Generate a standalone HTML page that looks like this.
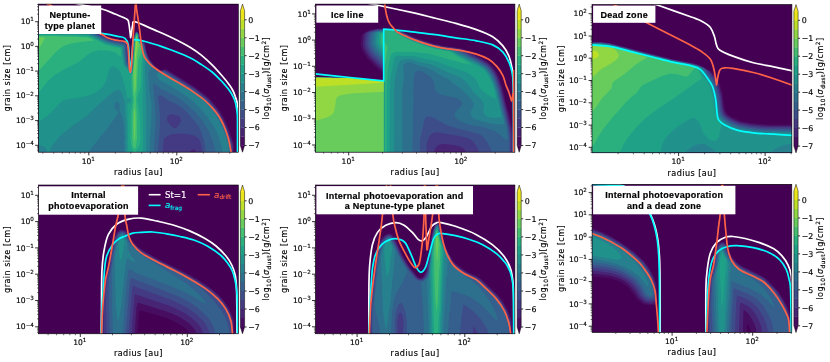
<!DOCTYPE html>
<html><head><meta charset="utf-8"><title>Dust size distributions</title>
<style>
html,body{margin:0;padding:0;background:#fff;}
body{width:830px;height:362px;overflow:hidden;}
svg{display:block;}
text{font-family:"DejaVu Sans","Liberation Sans",sans-serif;fill:#000;stroke:#000;stroke-width:0.15px;}
.tk{font-size:7.6px;}
.ck{font-size:7.9px;}
.lb{font-size:8.1px;letter-spacing:0.45px;}
.sp{font-size:5.8px;}
.st{font-size:5.6px;}
.tt{font-family:"Liberation Sans",sans-serif;font-weight:bold;font-size:9.0px;letter-spacing:0.28px;stroke-width:0.2px;}
.lg{font-size:8.7px;}
</style></head><body>

<svg width="830" height="362" viewBox="0 0 830 362">
<defs>
<clipPath id="cp0"><rect x="38.5" y="4.1" width="199.8" height="148.1"/></clipPath>
<clipPath id="cp1"><rect x="315.4" y="4.1" width="199.5" height="148.1"/></clipPath>
<clipPath id="cp2"><rect x="592" y="4.6" width="199.9" height="148.2"/></clipPath>
<clipPath id="cp3"><rect x="38.5" y="185" width="199.8" height="148.8"/></clipPath>
<clipPath id="cp4"><rect x="315.4" y="185" width="199.5" height="148.8"/></clipPath>
<clipPath id="cp5"><rect x="592.1" y="184.3" width="199.7" height="148.2"/></clipPath>
</defs>
<rect width="830" height="362" fill="#fff"/>
<g clip-path="url(#cp0)">
<rect x="37.5" y="3.1" width="201.8" height="150.1" fill="#440154"/>
<path d="M39.2 29.5L48.2 29.5L51.2 30L73.2 30L95.8 32.6L102.2 33.9L111.8 37.8L125.8 40.6L127.2 42.2L128.2 45.5L129.6 64.3L130.8 70.6L131.8 66.3L133.9 36.4L135.3 32.4L136.2 31.4L137.2 31.5L139 33.9L139.2 37.4L140.3 40.9L141.2 41.8L144.2 42.2L144.9 42.9L145.9 45.9L146.6 50.9L149.3 58.4L157.2 68.6L160.8 70.1L164.8 69.2L166.8 69.3L188.8 82.7L196.2 87.7L205.5 94.8L209.5 98.3L216.8 106.6L220.7 111.8L225.2 120.3L229 128.8L233.6 142.8L234.2 146.3L234.2 151.8L38.8 151.8L38.8 29.5Z" fill="#470d60" fill-rule="evenodd"/>
<path d="M39.2 29.7L73.2 30.2L95.8 32.8L102 34.4L107.8 37.4L111.2 38.6L117.8 40.2L125.8 41.4L126.8 42.3L127.8 45.5L129 61.9L130.2 70.8L130.8 71.4L131.9 66.3L134.1 36.4L135.5 32.4L136.2 31.6L137.2 31.7L138.8 33.9L139 37.4L140.1 40.9L141.2 41.9L143.8 42.4L144.4 42.9L145.4 45.9L146.1 50.9L149 58.9L156.8 68.8L158.2 69.8L160.8 70.5L164.8 69.8L166.2 70L194.2 87.5L208.7 98.8L218.1 109.8L223.2 118.3L228.1 129.3L232.6 142.8L233.3 146.8L233.3 151.8L38.8 151.8L38.8 29.7Z" fill="#482475" fill-rule="evenodd"/>
<path d="M39.2 30L73.2 30.5L90.8 32.4L98.8 33.9L107.2 38.2L111.2 39.6L117.2 41.1L125.8 42.4L126.7 43.9L127.3 46.9L128.4 61.8L129.7 66.8L130 71.3L130.8 72.4L132.1 66.3L134.3 36.4L135.7 32.4L136.2 31.9L137.2 32L138.7 34.4L138.9 37.4L139.9 40.9L140.8 41.9L143.2 42.5L144.1 43.4L145.8 51.3L148.5 58.9L156.6 69.3L160.2 71L164.2 70.5L165.8 70.8L195.2 89.3L207.8 99.3L217.2 110.3L222.4 118.9L227.3 129.8L231.8 143.3L232.4 146.8L232.4 151.8L195.8 151.8L195.1 149.8L193.8 149.2L191.8 149.9L189.9 151.8L38.8 151.8L38.8 30Z" fill="#443983" fill-rule="evenodd"/>
<path d="M39.2 30.3L73.2 30.8L91.2 32.7L97.9 34.4L106.8 39L110.8 40.4L125.2 43.3L125.9 44.3L126.4 47.4L126.5 52.9L127.6 61.9L129.3 66.3L129.8 71.8L130.8 72.9L131.7 70.3L132.3 66.3L134.4 36.4L135.8 32.6L136.2 32.1L137.2 32.2L138.6 34.4L138.8 37.8L139.7 40.9L140.8 42.1L143.2 42.9L143.6 43.4L144.5 46.4L145.3 51.4L148 58.9L156.2 69.6L160.2 71.4L164.8 71.3L194.4 89.8L207.2 100.1L216.5 110.8L221.6 119.3L226.5 130.3L230.8 143.3L231.5 147.3L231.5 151.8L202.6 151.8L200.6 142.3L199.1 139.3L197.3 137.4L194.2 135.8L190.8 134.7L185.2 133.7L180.8 133.4L173.8 134L170.2 134.8L167.8 135.9L164.2 138.3L163.6 139.8L162.8 151.8L38.8 151.8L38.8 30.3ZM171.2 114.3L169.2 115L167.7 116.3L166.8 118.3L167 120.3L168.2 122.5L172.2 127.1L174.2 128L176.2 127.8L178 126.3L180.7 121.8L181.1 120.3L181 118.8L179.6 116.8L177.2 115.4L174.2 114.5Z" fill="#3d4d8a" fill-rule="evenodd"/>
<path d="M39.2 30.7L73.2 31.2L90.2 32.9L95.2 34.1L106.2 39.8L110.2 41.2L124.2 44.1L125 44.9L125.5 47.4L125.6 52.8L126.8 62.4L129.1 66.8L129.6 71.8L130.8 73.3L131.4 72.3L132.5 66.3L134.6 36.4L135.8 33L136.2 32.4L137.2 32.5L138.4 34.4L138.6 37.9L139.5 40.9L140.8 42.3L142.8 43L143.2 43.8L144.8 51.3L147.4 58.9L149.2 61.7L155.7 69.8L157.2 70.9L159.8 71.8L164.2 72.1L194.2 90.8L206.6 100.8L215.7 111.3L220.8 119.8L225.7 130.8L229.9 143.3L230.5 147.3L230.6 151.8L205.7 151.8L204.4 141.8L201.2 131.8L198.8 126.6L195.2 121.7L186.8 112.1L181.2 107.1L175.2 103.5L167.8 100.3L162.8 96.3L160.2 95.3L158.5 95.8L157.9 97.3L159.5 107.8L160.1 120.3L159.6 132.8L157.8 151.8L38.8 151.8L38.8 30.7Z" fill="#355f8d" fill-rule="evenodd"/>
<path d="M39.2 31.5L76.8 32.1L89.8 33.2L93.8 34.4L106.8 41L116.2 43.6L123.4 44.9L124 45.4L124.5 47.4L124.7 52.9L126 62.8L126.8 64.8L128.8 67.1L129.5 72.3L130.8 73.6L131.5 72.8L132.7 66.3L134.7 36.9L135.8 33.4L136.2 32.7L137.2 32.8L138.2 34.4L138.4 37.9L139.3 40.9L140.2 42.1L142.8 43.9L144.5 51.9L146.9 58.9L148.7 61.9L155.2 70.1L158.8 72.1L163.8 72.8L193.3 91.3L205.8 101.4L214.9 111.8L220 120.3L224.8 130.9L229 143.8L229.6 147.3L229.7 151.8L215.6 151.8L213.1 141.8L209.1 131.8L203.2 121.8L196.7 113.8L188.8 105.9L178.8 98.1L171.2 93.7L160.8 88.7L156.2 85.1L154.2 84.1L153.2 84.6L152.9 85.8L153.9 91.3L154.1 97.3L155 103.3L155.8 118.8L153.8 151.8L38.8 151.8L38.8 31.5Z" fill="#2d708e" fill-rule="evenodd"/>
<path d="M39.2 32.4L76.8 32.9L88.8 33.6L93.2 35.1L106.2 41.8L115.8 44.4L122.8 45.7L123.7 47.9L123.8 52.9L125.2 63.4L126.2 65.7L128.7 68.3L129.3 72.3L129.8 73.3L130.8 73.8L131.8 72.8L132.8 66.3L134.9 36.9L135.8 33.8L136.2 33L137.2 33.1L138 34.4L138.2 37.9L139.1 40.9L140.2 42.4L142.3 43.9L144 51.9L146.1 58.4L150.8 65.9L151.5 67.8L148.8 71.1L148 73.8L148.9 80.3L149 87.3L151.2 102.8L151.7 111.3L149.4 151.8L124.1 151.8L124.1 149.3L124.8 146.3L123.8 141.8L124.8 137.3L123.7 132.8L124.3 128.8L123.6 123.3L121.8 115.4L120.8 113.2L119.5 111.8L119.9 107.3L119.4 103.8L118.7 102.3L117.2 101.7L116.2 102L114.8 103.8L114.1 106.8L115.2 109.7L117.9 111.8L117.9 113.3L109.1 126.3L89.8 150.1L89 151.8L38.8 151.8L38.7 32.4ZM157.2 72.9L162.8 73.4L168.2 77.2L186.2 87.8L193 92.3L202.2 99.5L208.8 105.9L215.9 114.9L222.8 128.5L228.1 143.8L228.6 147.3L228.7 151.8L222.6 151.8L219.2 137.8L216.8 131.5L210.8 121.5L201.2 109.3L193.3 101.5L182.8 93.4L173.2 87.4L159.7 80.3L157.7 77.8L156.8 73.3Z" fill="#27808e" fill-rule="evenodd"/>
<path d="M39.2 33.3L55.2 33.3L59.2 33.7L76.2 33.8L88.2 34.3L92.8 35.9L105.8 42.6L115.2 45.3L121.8 46.4L122.5 46.8L122.8 47.8L122.9 52.8L124.5 64.3L126 66.8L128.2 68.8L129.2 72.8L129.8 73.7L130.8 74.1L132 72.8L133 66.8L135.1 36.9L135.9 33.9L136.8 33.1L137.2 33.4L137.9 34.9L138.6 40.4L139.8 42.2L141.8 43.9L142.3 45.3L145.7 60.4L144.9 73.8L145.6 82.3L146.4 115.3L146.1 151.8L125.9 151.8L126.6 146.8L125.9 142.3L126.5 136.8L125.8 132.3L126.3 127.8L124.4 100.8L121.8 93L120.2 90.9L118.2 89.8L116.2 90.1L113.8 91.5L97.5 105.3L86.4 116.3L72.6 125.8L62.5 133.8L58.4 137.8L51.7 146.3L50.4 148.8L50.1 151.8L46.8 151.8L46.3 149.3L45 147.4L42.4 145.8L38.8 145.2L38.8 33.3Z" fill="#21918c" fill-rule="evenodd"/>
<path d="M136.2 33.8L136.8 33.5L137.5 34.4L138.6 40.9L141.5 44.4L144 56.3L143.3 61.9L143 74.3L143.3 83.3L142.5 101.3L143.4 139.3L142.9 147.9L142.1 151.8L130.2 151.5L128.5 151.8L127.9 141.8L128.1 127.8L127.7 122.8L127.4 104.3L128.2 102.9L129.8 102.9L130.8 102.2L131.1 99.8L130.2 97.9L127.8 97.9L126.8 96.7L124.9 85.8L120.8 72.9L118.3 69.1L114.8 66.7L112.2 66.6L110 68.3L108.8 71.3L106.9 78.8L105.5 82.3L102.8 86.6L98.8 90.6L92.8 94L86.8 96L75.8 98.2L66.8 99L63.8 100L59.8 103.1L50.8 112.8L40.8 120.5L38.8 121.3L38.8 34.2L55.2 34.2L59.2 34.7L76.2 34.7L87.8 35.2L92.2 36.7L105.2 43.4L114.8 46.1L121.2 47.3L121.9 48.3L122 52.9L123.6 64.8L125.6 67.8L128.2 70L128.6 72.3L129.3 73.8L130.8 74.5L132.1 73.3L133.2 66.8L134.8 42L135.3 36.9Z" fill="#1fa188" fill-rule="evenodd"/>
<path d="M136.8 33.8L137.4 34.9L137.6 37.9L138.4 40.9L140.8 43.9L141.5 45.9L142.7 53.9L141.5 61.4L140.8 86.2L139.8 90.3L138.2 94.1L137.4 100.3L139.5 115.3L140.6 138.3L139.8 144.5L136.8 149.7L136.1 151.8L133.2 151.8L131 145.8L130.3 139.8L130.6 117.8L131.1 110.8L132.7 100.3L131.8 92.3L131.1 75.8L132.4 73.3L132.9 70.3L134.9 42.4L135.5 36.8L136.2 34.4ZM39.2 35.1L76.8 35.6L88.2 36.3L92.2 37.7L105.2 44.5L114.2 47L120.2 48L120.9 48.9L121 55.9L120.8 56.5L120.2 56.4L117.2 53.8L113.8 52L107.2 50.6L98.8 50.3L92.6 51.9L88.2 54.3L79.2 61.7L63.8 69.4L53.8 75.8L47.8 81.1L40.2 90.7L38.8 91.7L38.8 35.1Z" fill="#2ab07f" fill-rule="evenodd"/>
<path d="M136.8 34.3L137.2 35.2L138.1 40.9L140.5 44.4L141.4 50.4L141 52.9L138.8 58.7L138.2 61.4L137.1 86.3L135.8 100.3L136.8 115.3L137 138.3L135.9 146.3L135.2 148.2L134.2 148.8L132.8 145.3L132.3 139.3L132.5 113.8L133.8 100.3L132.9 90.8L132.5 75.3L133.6 66.8L135.1 42.4L135.7 36.9ZM39.2 36L55.2 36.1L59.2 36.6L76.2 36.7L79.8 37.2L87.2 37.3L90.6 38.4L93.8 40.4L93.2 40.8L84.2 41.4L73.8 43.1L67.8 44.5L63.8 46.1L60.2 48.3L56.2 51.7L40.2 69.1L38.8 70L38.8 36Z" fill="#44bf70" fill-rule="evenodd"/>
<path d="M136.8 35.5L137.6 40.4L139.7 44.3L139.8 45.8L138.2 49.5L137.1 55.8L135.8 86.8L134.8 93.1L134.2 92L133.9 87.8L133.4 72.3L134.5 60.4L134.4 54.9L135.4 46.9L135.4 42.4L136.1 36.9ZM39.2 37L43.8 37.4L45.1 37.9L40.2 46.5L38.8 48L38.8 37ZM134.8 109L135.3 113.3L135.5 123.3L135.2 135.4L134.8 140L134.2 140L134 137.3L133.6 122.8L134 111.8L134.2 109.6Z" fill="#67cc5c" fill-rule="evenodd"/>
<path d="M136.8 39.7L137.3 42.9L135.4 60.4L134.8 72.5L134.7 62.9L135.2 60.3L134.9 54.9L135.8 46.9L135.7 42.4Z" fill="#90d743" fill-rule="evenodd"/>
<path d="M70 2C71.8 2.4 75.8 3.5 81 4.6C86.2 5.7 95.3 7.2 101 8.8C106.7 10.4 110.7 12.2 115 14C119.3 15.8 124.7 17.7 127 19.3C129.3 20.9 128.3 21.3 128.8 23.4C129.3 25.5 129.7 29.6 130 32C130.3 34.4 130.6 37.6 130.6 37.6C130.6 37.6 131.3 34 131.6 32C131.9 30 132.1 27.2 132.6 25.5C133.1 23.8 132 21.4 134.4 21.6C136.8 21.8 143.1 25 147 26.6C150.9 28.2 153.4 29.4 158.1 31.5C162.8 33.6 169.7 36.6 175 39.2C180.3 41.8 185.7 44.6 190 47.2C194.3 49.8 197.3 51.9 201 54.9C204.7 57.9 208.4 61.2 212.1 64.9C215.8 68.6 220.1 73.6 223.1 77C226.1 80.4 228.1 83.2 229.8 85.5C231.5 87.8 232.2 89.2 233.1 91C234 92.8 234.7 94.8 235.3 96.6C236 98.4 236.5 100 237 102C237.5 104 237.9 105.7 238.1 108.7C238.3 111.7 238.3 112.6 238.3 120C238.3 127.4 238.3 147.5 238.3 153" fill="none" stroke="#ffffff" stroke-width="1.7" stroke-linejoin="round" stroke-linecap="butt"/>
<path d="M42 26.4C46.7 26.9 60.1 28.4 70 29.5C79.9 30.6 93.4 32.2 101.4 33.3C109.4 34.4 113.9 35.4 117.8 36.3C121.7 37.1 123.2 36.9 125 38.4C126.8 39.9 127.6 41.4 128.3 45C129 48.6 129.1 55.4 129.4 60C129.8 64.6 130.4 72.6 130.4 72.6C130.4 72.6 131.2 64.6 131.6 60C132 55.4 132.3 48.4 132.8 45C133.3 41.6 132 40.1 134.4 39.6C136.8 39.1 143.1 41 147 42C150.9 43 154.4 44.1 158.1 45.3C161.8 46.5 163.9 47.1 169.2 49.2C174.5 51.3 184.7 55.2 190 57.7C195.3 60.2 197.3 61.9 201 64.3C204.7 66.7 208.9 69.4 212.1 72C215.3 74.6 218.2 77.8 220.4 80C222.6 82.2 223.8 83.7 225.4 85.5C227 87.3 228.5 89.2 229.8 91C231.1 92.8 232.2 94.8 233.1 96.6C234 98.4 234.8 100.2 235.3 102C235.9 103.8 236.1 105.8 236.4 107.6C236.7 109.4 237 111 237.2 113.1C237.4 115.2 237.4 113.3 237.5 120C237.6 126.7 237.5 147.5 237.5 153" fill="none" stroke="#00ffff" stroke-width="1.7" stroke-linejoin="round" stroke-linecap="butt"/>
<path d="M44 0C44.5 0.6 45.8 2.8 47 3.7C48.2 4.6 48.8 4.1 51 5.5C53.2 6.9 56 9.2 60 12C64 14.8 70 19 75 22C80 25 85.6 28 90 30C94.4 32 98.5 32.8 101.4 34.1C104.3 35.4 105.1 36.8 107.5 37.8C109.9 38.8 113 39.6 115.7 40.2C118.4 40.8 122 40.8 123.9 41.4C125.9 42 126.6 41.8 127.4 43.9C128.2 46 128.3 50 128.6 54.1C128.9 58.2 129.1 65.4 129.4 68.4C129.7 71.4 130.4 72.3 130.4 72.3C130.4 72.3 131.2 69 131.6 64.3C132 59.6 132.3 50.7 132.7 43.9C133.1 37.1 133.7 29 134.1 23.4C134.5 17.8 134.8 13.4 135 10C135.2 6.6 135.4 5.2 135.5 3C135.6 0.8 135.7 -2 135.7 -3" fill="none" stroke="#ff6347" stroke-width="1.7" stroke-linejoin="round" stroke-linecap="butt"/>
<path d="M135.9 -3C135.9 -2 136 0.8 136.1 3C136.2 5.2 136.3 7 136.7 10C137.1 13 137.9 17.3 138.4 21C138.9 24.7 139.4 28.2 139.9 32C140.4 35.8 140.6 39.9 141.3 43.9C142 47.9 142.6 52.8 144.1 56.2C145.6 59.6 147.9 61.9 150.3 64.3C152.7 66.7 155.3 68.4 158.4 70.5C161.5 72.6 165.1 74.8 168.7 77C172.3 79.2 176.4 81.4 180 83.5C183.6 85.6 186.7 87.4 190 89.6C193.3 91.8 197.4 94.7 200 96.6C202.6 98.5 203.7 99.3 205.5 101C207.3 102.7 209.2 104.5 211 106.5C212.8 108.5 214.9 110.8 216.6 113.1C218.3 115.3 219.6 117.4 221 120C222.4 122.6 223.8 125.3 225 128.5C226.2 131.7 227.4 134.9 228.5 139C229.6 143.1 230.8 150.7 231.3 153" fill="none" stroke="#ff6347" stroke-width="1.7" stroke-linejoin="round" stroke-linecap="butt"/>
</g>
<rect x="38.9" y="5.5" width="62.3" height="28.5" fill="#fff"/>
<text x="70" y="18.1" text-anchor="middle" class="tt">Neptune-</text>
<text x="70" y="29" text-anchor="middle" class="tt">type planet</text>
<rect x="38.5" y="4.1" width="199.8" height="148.1" fill="none" stroke="#000" stroke-width="0.6"/>
<text x="94.9" y="163.6" text-anchor="end" class="tk">10<tspan dy="-2.9" class="st">1</tspan></text>
<text x="182.9" y="163.6" text-anchor="end" class="tk">10<tspan dy="-2.9" class="st">2</tspan></text>
<text x="33.9" y="147.9" text-anchor="end" class="tk">10<tspan dy="-2.9" class="st">−4</tspan></text>
<text x="33.9" y="123.2" text-anchor="end" class="tk">10<tspan dy="-2.9" class="st">−3</tspan></text>
<text x="33.9" y="98.4" text-anchor="end" class="tk">10<tspan dy="-2.9" class="st">−2</tspan></text>
<text x="33.9" y="73.7" text-anchor="end" class="tk">10<tspan dy="-2.9" class="st">−1</tspan></text>
<text x="33.9" y="49" text-anchor="end" class="tk">10<tspan dy="-2.9" class="st">0</tspan></text>
<text x="33.9" y="24.3" text-anchor="end" class="tk">10<tspan dy="-2.9" class="st">1</tspan></text>
<path d="M88.8 152.2v3.2M176.8 152.2v3.2M38.5 145.3h-3.4M38.5 120.6h-3.4M38.5 95.8h-3.4M38.5 71.1h-3.4M38.5 46.4h-3.4M38.5 21.7h-3.4" stroke="#000" stroke-width="0.8" fill="none"/>
<path d="M42.8 152.2v1.5M53.8 152.2v1.5M62.3 152.2v1.5M69.3 152.2v1.5M75.2 152.2v1.5M80.3 152.2v1.5M84.8 152.2v1.5M115.3 152.2v1.5M130.8 152.2v1.5M141.8 152.2v1.5M150.3 152.2v1.5M157.3 152.2v1.5M163.2 152.2v1.5M168.3 152.2v1.5M172.8 152.2v1.5M203.3 152.2v1.5M218.8 152.2v1.5M229.8 152.2v1.5M38.5 150.8h-1.5M38.5 149.1h-1.5M38.5 147.7h-1.5M38.5 146.4h-1.5M38.5 137.8h-1.5M38.5 133.5h-1.5M38.5 130.4h-1.5M38.5 128h-1.5M38.5 126h-1.5M38.5 124.4h-1.5M38.5 123h-1.5M38.5 121.7h-1.5M38.5 113.1h-1.5M38.5 108.8h-1.5M38.5 105.7h-1.5M38.5 103.3h-1.5M38.5 101.3h-1.5M38.5 99.7h-1.5M38.5 98.2h-1.5M38.5 97h-1.5M38.5 88.4h-1.5M38.5 84h-1.5M38.5 81h-1.5M38.5 78.6h-1.5M38.5 76.6h-1.5M38.5 74.9h-1.5M38.5 73.5h-1.5M38.5 72.3h-1.5M38.5 63.7h-1.5M38.5 59.3h-1.5M38.5 56.2h-1.5M38.5 53.8h-1.5M38.5 51.9h-1.5M38.5 50.2h-1.5M38.5 48.8h-1.5M38.5 47.5h-1.5M38.5 39h-1.5M38.5 34.6h-1.5M38.5 31.5h-1.5M38.5 29.1h-1.5M38.5 27.2h-1.5M38.5 25.5h-1.5M38.5 24.1h-1.5M38.5 22.8h-1.5M38.5 14.2h-1.5M38.5 9.9h-1.5M38.5 6.8h-1.5M38.5 4.4h-1.5" stroke="#000" stroke-width="0.55" fill="none"/>
<text x="138.4" y="174.8" text-anchor="middle" class="lb">radius [au]</text>
<text transform="translate(10.2 78.1) rotate(-90)" text-anchor="middle" class="lb">grain size [cm]</text>
<g>
<path d="M240.4 11.1L242.5 4.1L244.6 11.1Z" fill="#fde725"/>
<path d="M240.4 145.2L242.5 152.2L244.6 145.2Z" fill="#440154"/>
<rect x="240.4" y="136.4" width="4.2" height="9.2" fill="#470d60"/>
<rect x="240.4" y="127.4" width="4.2" height="9.2" fill="#482475"/>
<rect x="240.4" y="118.4" width="4.2" height="9.2" fill="#443983"/>
<rect x="240.4" y="109.5" width="4.2" height="9.2" fill="#3d4d8a"/>
<rect x="240.4" y="100.5" width="4.2" height="9.2" fill="#355f8d"/>
<rect x="240.4" y="91.5" width="4.2" height="9.2" fill="#2d708e"/>
<rect x="240.4" y="82.5" width="4.2" height="9.2" fill="#27808e"/>
<rect x="240.4" y="73.6" width="4.2" height="9.2" fill="#21918c"/>
<rect x="240.4" y="64.6" width="4.2" height="9.2" fill="#1fa188"/>
<rect x="240.4" y="55.6" width="4.2" height="9.2" fill="#2ab07f"/>
<rect x="240.4" y="46.6" width="4.2" height="9.2" fill="#44bf70"/>
<rect x="240.4" y="37.7" width="4.2" height="9.2" fill="#67cc5c"/>
<rect x="240.4" y="28.7" width="4.2" height="9.2" fill="#90d743"/>
<rect x="240.4" y="19.7" width="4.2" height="9.2" fill="#bddf26"/>
<rect x="240.4" y="10.7" width="4.2" height="9.2" fill="#eae51a"/>
<path d="M240.4 10.8L242.5 4.1L244.6 10.8L244.6 145.5L242.5 152.2L240.4 145.5Z" fill="none" stroke="#000" stroke-width="0.5"/>
<text x="248.2" y="148.4" class="ck">−7</text>
<text x="248.2" y="130.4" class="ck">−6</text>
<text x="248.2" y="112.5" class="ck">−5</text>
<text x="248.2" y="94.5" class="ck">−4</text>
<text x="248.2" y="76.6" class="ck">−3</text>
<text x="248.2" y="58.6" class="ck">−2</text>
<text x="248.2" y="40.7" class="ck">−1</text>
<text x="248.2" y="22.7" class="ck">0</text>
<path d="M244.6 145.5h2.0M244.6 127.5h2.0M244.6 109.6h2.0M244.6 91.6h2.0M244.6 73.7h2.0M244.6 55.7h2.0M244.6 37.8h2.0M244.6 19.8h2.0" stroke="#000" stroke-width="0.8" fill="none"/>
<text transform="translate(269.2 78.1) rotate(-90)" text-anchor="middle" class="lb">log<tspan dy="1.8" class="sp">10</tspan><tspan dy="-1.8">(<tspan font-style="italic">σ</tspan></tspan><tspan dy="1.8" class="sp">dust</tspan><tspan dy="-1.8">)[g/cm</tspan><tspan dy="-3.4" class="sp">2</tspan><tspan dy="3.4">]</tspan></text>
</g>
<g clip-path="url(#cp1)">
<rect x="314.4" y="3.1" width="201.5" height="150.1" fill="#440154"/>
<path d="M378.6 28.3L383.6 27.9L383.9 28.9L384 62.4L383.6 74.1L380.1 70.7L376.1 67.6L367.8 59.3L364.1 54L361.6 48.9L360.6 43.9L361.5 35.4L362.6 33.7L368.6 30.4L376.6 28.4ZM384.6 29.4L387.1 29.4L387.6 29.9L393.6 29.9L394.1 30.4L399.1 30.5L399.6 31L402.1 31.2L415.1 37.5L435.1 44L437.6 44.2L444.6 46.1L463.1 48.5L482.1 58L488.6 62.2L492.6 66.3L496.5 71.8L499.2 77.3L502.9 87.8L506.1 102.8L509.4 114.3L512.4 127.8L513.2 136.3L513.2 151.8L384.1 151.8L384.1 29.9ZM316.1 77.4L352.6 77.9L353.1 78.4L358.6 78.4L359.1 78.9L364.1 78.9L364.6 79.4L369.6 79.4L370.1 79.9L381.1 80.4L381.6 80.9L383.6 80.9L384.1 81.3L384.1 151.8L315.6 151.8L315.6 77.4Z" fill="#470d60" fill-rule="evenodd"/>
<path d="M382.6 28.7L383.6 28.4L384 32.4L383.6 71.1L377.1 65.6L369.6 58.1L366.1 53L363.8 48.4L362.9 43.9L363.7 34.9L365 32.9L368.6 31L376.6 29ZM384.6 29.4L399.1 30.6L399.6 31.1L401.6 31.4L414.6 37.9L434.6 44.4L437.6 44.8L444.1 46.6L451.1 47.2L462.1 49.1L481.6 59L488.1 63.3L491.6 66.8L495.6 72.6L498.2 77.8L501.8 88.3L505.1 103.3L508.3 114.8L511.3 128.3L512.4 136.8L512.4 151.8L384.2 151.8L384.2 29.9ZM316.1 77.4L352.6 77.9L353.1 78.4L358.6 78.4L359.1 78.9L364.1 78.9L364.6 79.4L369.6 79.4L370.1 79.9L381.1 80.4L381.6 80.9L383.6 80.9L384 81.3L384 151.8L315.6 151.8L315.6 77.4Z" fill="#482475" fill-rule="evenodd"/>
<path d="M382.6 29.3L383.6 29L383.9 32.9L383.6 68.1L378.4 63.9L371.4 56.9L368 51.9L365.8 47.4L365 43.9L365.8 35.4L366.6 32.9L368.6 31.7L377.1 29.5ZM384.6 29.5L399.1 30.8L414.3 38.4L424.6 42L434.6 45L437.6 45.3L444.1 47.1L451.1 47.7L460.3 49.3L480.9 59.9L487.6 64.3L490.6 67.3L494.8 73.3L497 77.8L500.7 88.3L510.3 128.8L511.3 137.3L511.3 151.8L465.3 151.8L464.8 150.3L463.1 148.3L459.6 146.2L453.6 144.9L444.1 143.9L440.1 144.4L437.1 145.8L435.1 148.5L434.2 151.8L384.2 151.8L384.2 29.9ZM316.1 77.5L352.6 78L353.1 78.5L358.6 78.5L359.1 79L364.1 79L364.6 79.5L369.6 79.5L370.1 80L381.1 80.5L381.6 81L383.6 81L384 81.3L384 151.8L315.6 151.8L315.6 77.5Z" fill="#443983" fill-rule="evenodd"/>
<path d="M383.1 29.8L383.6 29.6L383.9 33.9L383.6 65.2L379.6 62L373.1 55.5L369.9 50.9L367.7 46.3L367.1 43.9L367.9 35.4L368.9 32.4L377.1 30.1ZM384.6 29.5L387.1 29.5L387.6 30L393.6 30.1L394.1 30.6L398.7 30.9L414.1 38.8L424.6 42.5L434.6 45.5L437.1 45.7L443.6 47.5L458.1 49.4L480.1 60.7L487.1 65.3L489.6 67.8L493.8 73.8L496 78.3L499.7 88.9L509.2 128.8L510.2 137.3L510.3 151.8L479 151.8L477.4 147.8L474.6 143.3L471.6 140.3L468.1 138.2L461.6 136.4L437.1 132.3L434.6 132.6L432.1 133.6L430.2 135.3L428.6 137.7L426.6 143.8L426.3 151.8L384.3 151.8L384.3 29.9ZM316.1 77.5L352.6 78L353.1 78.5L358.6 78.5L359.1 79L364.1 79L364.6 79.5L369.6 79.5L370.1 80L381.1 80.5L381.6 81L383.6 81L384 81.3L383.9 151.8L315.6 151.8L315.6 77.5Z" fill="#3d4d8a" fill-rule="evenodd"/>
<path d="M384.6 29.6L387.1 29.6L387.6 30.1L393.6 30.1L394.1 30.6L397.8 30.9L413.6 39.1L424.1 42.9L434.6 46L437.1 46.3L443.6 48L450.6 48.7L457.6 50L479.6 61.6L486.6 66.3L489 68.8L493.1 74.8L495.1 78.8L498.7 89.3L508.1 128.8L509.2 137.8L509.2 151.8L491.9 151.8L491.5 150.4L485.8 139.8L483.6 137.2L481.1 135.1L475.6 132.9L458.1 128.7L450.6 126.5L444.6 123.9L433.1 117.6L428.6 116.3L427.1 116.5L425.6 117.5L424.1 121.3L420.1 139.3L420 151.8L384.3 151.8ZM383.1 30.3L383.6 30.2L383.9 33.9L383.6 62.5L375 54.4L371.8 49.9L369.3 43.9L370.1 34.9L371 32.4L377.6 30.6ZM316.1 77.5L352.6 78L353.1 78.5L358.6 78.5L359.1 79L364.1 79L364.6 79.5L369.6 79.5L370.1 80L381.1 80.5L381.6 81L383.9 81.3L383.9 151.8L315.6 151.8L315.6 77.5Z" fill="#355f8d" fill-rule="evenodd"/>
<path d="M384.6 29.6L387.1 29.6L387.6 30.1L393.6 30.2L394.1 30.7L396.9 30.9L401.1 33.5L413.6 39.7L434.1 46.4L443.6 48.5L450.6 49.2L456.1 50.4L479.1 62.6L485.6 66.8L488.1 69.4L492.1 75.3L494.1 79.3L497.6 89.4L506.6 126.9L507.6 137.3L507.1 140.5L504.6 138.8L499.1 133.8L494.7 131.3L483.6 127L472.6 125.4L466.6 123.9L460.6 121.4L456.7 118.8L454.7 116.3L454.5 113.8L456 111.3L462 105.3L462.4 103.3L461.6 101.6L459.1 99.4L455.6 97.7L442.1 94.9L437.1 92.6L435.3 90.3L433.9 82.3L431.5 78.3L428.3 75.3L423.6 72.1L421.1 71L418.6 70.8L416.6 71.2L415.1 72.3L414.2 75.8L413.4 87.8L413.6 102.8L412.8 115.3L413.2 127.8L412.6 137.8L412.5 151.8L384.4 151.8ZM383.6 30.8L383.8 39.9L383.6 59.8L376.6 52.9L373.8 48.9L371.4 43.4L372.7 32.9L377.6 31.2ZM316.1 77.6L352.6 78.1L353.1 78.6L358.6 78.6L359.1 79.1L364.1 79.1L364.6 79.6L369.6 79.6L370.1 80.1L381.1 80.6L381.6 81.1L383.9 81.3L383.9 151.8L315.6 151.8L315.6 77.6Z" fill="#2d708e" fill-rule="evenodd"/>
<path d="M384.6 29.7L387.1 29.7L387.6 30.2L393.6 30.2L394.1 30.7L396 30.9L400.8 33.9L413.1 40L424.1 43.9L434.1 46.9L443.6 49L450.6 49.7L454.9 50.9L459.6 53.8L478.6 63.5L484.6 67.4L487.1 69.9L490.9 75.3L494.8 84.3L496.8 90.3L500.1 105.3L503.3 116.9L504.2 122.3L504.1 124.3L498.6 124.2L490.1 123.2L478.1 120.2L473.4 118.3L471.3 116.3L470.4 113.8L471 111.3L473.7 105.8L473.6 102.8L469.6 97.3L463.6 91.3L448.4 79.3L442.6 76.5L431.3 69.8L425.6 67.4L417.1 65L411.1 62.6L407.6 62.3L404.6 63.9L403.6 65.3L403.2 67.3L404 76.3L402.6 87.2L402.1 95.3L402.4 151.8L384.4 151.8ZM377.6 31.8L383.6 31.4L383.6 56.9L379 52.4L376.1 48.5L373.6 43.4L374.7 33.4L375.5 32.4ZM316.1 77.6L352.6 78.1L353.1 78.6L358.6 78.6L359.1 79.1L364.1 79.1L364.6 79.6L369.6 79.6L370.1 80.1L381.1 80.6L381.6 81.1L383.9 81.3L383.8 151.8L315.6 151.8L315.6 77.6Z" fill="#27808e" fill-rule="evenodd"/>
<path d="M384.6 29.7L387.1 29.7L387.6 30.2L393.6 30.3L394.1 30.8L395.2 30.9L400.6 34.4L413.1 40.6L423.6 44.3L434.1 47.4L443.6 49.5L452.8 50.9L459.1 54.7L478.1 64.5L484 68.3L486.6 71L489.9 75.8L493.7 84.3L495.8 90.8L501.7 115.8L501.6 117.5L495.6 118L490.6 117.7L487.1 116.6L484.7 114.8L483.2 111.8L483.9 105.3L482.8 101.8L479.6 97.9L473.7 92.3L466 81.8L461.1 77.8L455.6 75.2L447.5 72.3L437.6 67.2L431.1 64.6L420.6 62.2L411.6 59.2L407.6 59.1L402.4 59.9L400.1 60.9L398.5 63.3L395.1 78.3L394 90.8L394.4 135.3L393.9 151.8L384.5 151.8ZM378.1 32.3L383.6 31.9L383.6 53.9L377.9 47.4L375.9 43.4L375.9 38.9L376.6 34.4L377.1 32.9ZM316.1 77.6L352.6 78.1L353.1 78.6L358.6 78.6L359.1 79.1L364.1 79.1L364.6 79.6L369.6 79.6L370.1 80.1L375.6 80.1L376.1 80.6L381.1 80.6L381.6 81.1L383.8 81.3L383.8 151.8L315.6 151.8L315.6 77.6Z" fill="#21918c" fill-rule="evenodd"/>
<path d="M384.6 29.8L387.1 29.8L387.6 30.3L393.6 30.3L400.1 34.7L412.6 40.9L423.6 44.8L434.1 48L443.6 50.1L451.1 51L458.6 55.7L480.1 67L483.5 69.3L485.6 71.5L490.6 79.6L494.6 90.8L495.6 96.2L495.6 99L488.1 95L484.2 92.3L480.1 88.2L476.1 79.8L474.5 77.8L468.8 73.8L463.9 71.3L451.1 67.1L437.6 61.7L431 59.9L422.1 58.3L412.6 56.1L405.1 56.3L398.6 55.7L396.6 56.1L395.1 57.1L394.4 58.4L390.6 77.8L389.8 90.8L389.8 151.8L384.5 151.8ZM380.6 32.8L383.6 32.5L383.6 50.8L379.8 46.4L378 42.4L378.8 33.9L379.1 33.3ZM316.1 77.7L352.6 78.2L353.1 78.7L358.6 78.7L359.1 79.2L364.1 79.2L364.6 79.7L369.6 79.7L370.1 80.2L375.6 80.2L376.1 80.7L381.1 80.7L381.6 81.2L383.8 81.3L383.7 151.8L315.6 151.8L315.6 77.7Z" fill="#1fa188" fill-rule="evenodd"/>
<path d="M384.6 29.8L387.1 29.8L387.6 30.3L392.7 30.4L395.1 32.6L400.1 35.6L412.6 41.6L423.1 45.3L433.6 48.5L443.1 50.6L450.1 51.5L457.6 56.5L464.1 59.9L472 64.8L462 62.9L429.1 53.8L413.6 52.1L405.1 52.3L398.1 51.7L394.6 52.2L391.6 53.8L390.2 56.8L387.9 70.3L386.8 83.3L386.6 151.9L384.6 151.8ZM382.6 33.3L383.6 33.1L383.6 47.8L381.6 45.1L380.2 41.9L380.9 34.4L381.1 33.8ZM316.1 77.7L352.6 78.2L353.1 78.7L358.6 78.7L359.1 79.2L364.1 79.2L364.6 79.7L369.6 79.7L370.1 80.2L375.6 80.2L376.1 80.7L381.1 80.7L381.6 81.2L383.7 81.3L383.7 151.8L315.6 151.8L315.6 77.7Z" fill="#2ab07f" fill-rule="evenodd"/>
<path d="M383.6 33.8L383.6 39.9L383.6 44.3L382.4 41.9L382.3 40.4L382.9 34.9ZM384.6 42.2L386.8 45.4L387.5 47.9L384.6 66ZM316.1 77.7L352.6 78.2L353.1 78.7L358.6 78.7L359.1 79.2L364.1 79.2L364.6 79.7L375.6 80.2L376.1 80.7L381.1 80.7L381.6 81.2L383.7 81.3L383.7 151.9L315.6 151.8L315.6 77.7Z" fill="#44bf70" fill-rule="evenodd"/>
<path d="M316.1 77.8L352.6 78.3L353.1 78.8L358.6 78.8L359.1 79.3L364.1 79.3L364.6 79.8L369.6 79.8L370.1 80.3L375.6 80.3L376.1 80.8L381.1 80.8L381.6 81.3L383.7 81.3L383.6 151.8L315.6 151.8L315.6 77.8Z" fill="#67cc5c" fill-rule="evenodd"/>
<path d="M316.1 77.8L352.6 78.3L353.1 78.8L358.6 78.8L359.1 79.3L364.1 79.3L364.6 79.8L369.6 79.8L370.1 80.3L375.6 80.3L376.1 80.8L381.1 80.8L381.6 81.3L383.6 81.3L383.6 91.7L350.6 93.6L343.1 94.7L339.1 95.8L337 97.3L336 99.3L334.9 108.3L333.6 112.3L332.1 114.4L328.1 116.9L315.6 120.7L315.6 77.8Z" fill="#90d743" fill-rule="evenodd"/>
<path d="M316.1 77.8L352.6 78.3L353.1 78.8L358.6 78.8L359.1 79.3L364.1 79.3L364.6 79.8L369.6 79.8L370.1 80.3L381.1 80.8L381.6 81.3L383.6 81.3L383.6 82.8L315.6 86.7L315.6 77.8Z" fill="#bddf26" fill-rule="evenodd"/>
<path d="M350 -0.5C353.6 0.2 361.1 1.7 371.9 4C382.7 6.3 404.4 10.8 415 13.2C425.6 15.6 428.6 16.6 435.4 18.3C442.2 20 449.1 21.5 455.9 23.4C462.7 25.3 470.2 27.4 476.3 29.6C482.4 31.8 488.3 34 492.7 36.7C497.1 39.4 500.2 42.6 502.9 45.9C505.6 49.1 507.5 52.5 509 56.2C510.5 60 511.4 64.4 512.1 68.4C512.8 72.4 513.1 74.7 513.4 80C513.7 85.3 513.7 87.8 513.8 100C513.9 112.2 513.8 144.2 513.8 153" fill="none" stroke="#ffffff" stroke-width="1.7" stroke-linejoin="round" stroke-linecap="butt"/>
<path d="M315 73.9C320.8 74.5 338.7 76.3 350 77.5C361.3 78.7 383 80.8 383 80.8C383 80.8 383.7 80.8 383.7 80.8C383.7 80.8 383.7 29.2 383.7 29.2C383.7 29.2 391.6 29.7 396.8 30.2C402 30.7 408.6 31.5 415 32.2C421.4 33 428.6 33.8 435.4 34.7C442.2 35.6 449.1 36.8 455.9 37.8C462.7 38.8 470.2 39.6 476.3 40.8C482.4 42 488.3 43 492.7 44.9C497.1 46.8 500.2 49.2 502.9 52.1C505.6 55 507.5 58.9 509 62.3C510.5 65.7 511.4 67.9 512.1 72.5C512.8 77.1 513.1 76.6 513.3 90C513.5 103.4 513.5 142.5 513.5 153" fill="none" stroke="#00ffff" stroke-width="1.7" stroke-linejoin="round" stroke-linecap="butt"/>
<path d="M384.2 -3C384.3 -2 384.2 -0.1 384.6 3C385 6.1 385.8 11.9 386.6 15.3C387.4 18.7 387.9 20.7 389.6 23.4C391.3 26.1 395.1 29.9 396.8 31.6C398.5 33.3 398.5 32.6 400 33.4C401.5 34.2 403.7 35.3 406 36.3C408.3 37.3 410.2 38.2 413.8 39.6C417.4 41 423.1 43 427.7 44.4C432.3 45.8 436.1 46.9 441.5 47.9C446.9 48.9 454.2 49.4 460 50.4C465.8 51.4 471.5 52.6 476.3 54.1C481.1 55.6 485.2 57.2 488.6 59.2C492 61.2 494.4 63.7 496.8 66.4C499.2 69.1 501.4 72.5 502.9 75.6C504.4 78.7 505 82.5 506 85.2C507 87.9 508.1 90 508.8 92C509.5 94 509.9 95.5 510.4 97C510.9 98.5 511.6 101 511.6 101C511.6 101 512.1 99.3 512.4 98C512.6 96.7 513 93.8 513.1 93" fill="none" stroke="#ff6347" stroke-width="1.7" stroke-linejoin="round" stroke-linecap="butt"/>
<path d="M513.7 70C513.7 83.8 513.7 139.2 513.7 153" fill="none" stroke="#ff6347" stroke-width="1.7" stroke-linejoin="round" stroke-linecap="butt"/>
</g>
<rect x="316.4" y="5.5" width="61.8" height="17.2" fill="#fff"/>
<text x="347.3" y="18.3" text-anchor="middle" class="tt">Ice line</text>
<rect x="315.4" y="4.1" width="199.5" height="148.1" fill="none" stroke="#000" stroke-width="0.6"/>
<text x="354.8" y="163.6" text-anchor="end" class="tk">10<tspan dy="-2.9" class="st">1</tspan></text>
<text x="467.4" y="163.6" text-anchor="end" class="tk">10<tspan dy="-2.9" class="st">2</tspan></text>
<text x="310.8" y="147.6" text-anchor="end" class="tk">10<tspan dy="-2.9" class="st">−4</tspan></text>
<text x="310.8" y="121.4" text-anchor="end" class="tk">10<tspan dy="-2.9" class="st">−3</tspan></text>
<text x="310.8" y="95.1" text-anchor="end" class="tk">10<tspan dy="-2.9" class="st">−2</tspan></text>
<text x="310.8" y="68.9" text-anchor="end" class="tk">10<tspan dy="-2.9" class="st">−1</tspan></text>
<text x="310.8" y="42.7" text-anchor="end" class="tk">10<tspan dy="-2.9" class="st">0</tspan></text>
<text x="310.8" y="16.5" text-anchor="end" class="tk">10<tspan dy="-2.9" class="st">1</tspan></text>
<path d="M348.7 152.2v3.2M461.3 152.2v3.2M315.4 145h-3.4M315.4 118.8h-3.4M315.4 92.5h-3.4M315.4 66.3h-3.4M315.4 40.1h-3.4M315.4 13.9h-3.4" stroke="#000" stroke-width="0.8" fill="none"/>
<path d="M323.7 152.2v1.5M331.3 152.2v1.5M337.8 152.2v1.5M343.5 152.2v1.5M382.6 152.2v1.5M402.4 152.2v1.5M416.5 152.2v1.5M427.4 152.2v1.5M436.3 152.2v1.5M443.9 152.2v1.5M450.4 152.2v1.5M456.1 152.2v1.5M495.2 152.2v1.5M315.4 150.8h-1.5M315.4 149h-1.5M315.4 147.5h-1.5M315.4 146.2h-1.5M315.4 137.1h-1.5M315.4 132.5h-1.5M315.4 129.2h-1.5M315.4 126.7h-1.5M315.4 124.6h-1.5M315.4 122.8h-1.5M315.4 121.3h-1.5M315.4 120h-1.5M315.4 110.9h-1.5M315.4 106.2h-1.5M315.4 103h-1.5M315.4 100.4h-1.5M315.4 98.4h-1.5M315.4 96.6h-1.5M315.4 95.1h-1.5M315.4 93.7h-1.5M315.4 84.6h-1.5M315.4 80h-1.5M315.4 76.8h-1.5M315.4 74.2h-1.5M315.4 72.1h-1.5M315.4 70.4h-1.5M315.4 68.9h-1.5M315.4 67.5h-1.5M315.4 58.4h-1.5M315.4 53.8h-1.5M315.4 50.5h-1.5M315.4 48h-1.5M315.4 45.9h-1.5M315.4 44.2h-1.5M315.4 42.6h-1.5M315.4 41.3h-1.5M315.4 32.2h-1.5M315.4 27.6h-1.5M315.4 24.3h-1.5M315.4 21.8h-1.5M315.4 19.7h-1.5M315.4 17.9h-1.5M315.4 16.4h-1.5M315.4 15.1h-1.5M315.4 6h-1.5" stroke="#000" stroke-width="0.55" fill="none"/>
<text x="415.1" y="174.8" text-anchor="middle" class="lb">radius [au]</text>
<text transform="translate(287.2 78.1) rotate(-90)" text-anchor="middle" class="lb">grain size [cm]</text>
<g>
<path d="M517.2 11.1L519.2 4.1L521.2 11.1Z" fill="#fde725"/>
<path d="M517.2 145.2L519.2 152.2L521.2 145.2Z" fill="#440154"/>
<rect x="517.2" y="136.4" width="4" height="9.2" fill="#470d60"/>
<rect x="517.2" y="127.4" width="4" height="9.2" fill="#482475"/>
<rect x="517.2" y="118.4" width="4" height="9.2" fill="#443983"/>
<rect x="517.2" y="109.5" width="4" height="9.2" fill="#3d4d8a"/>
<rect x="517.2" y="100.5" width="4" height="9.2" fill="#355f8d"/>
<rect x="517.2" y="91.5" width="4" height="9.2" fill="#2d708e"/>
<rect x="517.2" y="82.5" width="4" height="9.2" fill="#27808e"/>
<rect x="517.2" y="73.6" width="4" height="9.2" fill="#21918c"/>
<rect x="517.2" y="64.6" width="4" height="9.2" fill="#1fa188"/>
<rect x="517.2" y="55.6" width="4" height="9.2" fill="#2ab07f"/>
<rect x="517.2" y="46.6" width="4" height="9.2" fill="#44bf70"/>
<rect x="517.2" y="37.7" width="4" height="9.2" fill="#67cc5c"/>
<rect x="517.2" y="28.7" width="4" height="9.2" fill="#90d743"/>
<rect x="517.2" y="19.7" width="4" height="9.2" fill="#bddf26"/>
<rect x="517.2" y="10.7" width="4" height="9.2" fill="#eae51a"/>
<path d="M517.2 10.8L519.2 4.1L521.2 10.8L521.2 145.5L519.2 152.2L517.2 145.5Z" fill="none" stroke="#000" stroke-width="0.5"/>
<text x="524.8" y="148.4" class="ck">−7</text>
<text x="524.8" y="130.4" class="ck">−6</text>
<text x="524.8" y="112.5" class="ck">−5</text>
<text x="524.8" y="94.5" class="ck">−4</text>
<text x="524.8" y="76.6" class="ck">−3</text>
<text x="524.8" y="58.6" class="ck">−2</text>
<text x="524.8" y="40.7" class="ck">−1</text>
<text x="524.8" y="22.7" class="ck">0</text>
<path d="M521.2 145.5h2.0M521.2 127.5h2.0M521.2 109.6h2.0M521.2 91.6h2.0M521.2 73.7h2.0M521.2 55.7h2.0M521.2 37.8h2.0M521.2 19.8h2.0" stroke="#000" stroke-width="0.8" fill="none"/>
<text transform="translate(546 78.1) rotate(-90)" text-anchor="middle" class="lb">log<tspan dy="1.8" class="sp">10</tspan><tspan dy="-1.8">(<tspan font-style="italic">σ</tspan></tspan><tspan dy="1.8" class="sp">dust</tspan><tspan dy="-1.8">)[g/cm</tspan><tspan dy="-3.4" class="sp">2</tspan><tspan dy="3.4">]</tspan></text>
</g>
<g clip-path="url(#cp2)">
<rect x="591" y="3.6" width="201.9" height="150.2" fill="#440154"/>
<path d="M592.8 42L600.8 42L609.3 43.1L670.8 58.9L692.8 63.2L698.3 64.7L704.3 67.4L709.9 70.8L714.6 74.8L716.8 77.3L719.5 82.8L722.9 94.8L724.2 105.8L725.6 111.3L727.8 114.3L731.3 116.8L740.8 121L751.3 123.1L768.3 124.6L791.8 124.6L791.8 152.3L592.3 152.3L592.3 42Z" fill="#470d60" fill-rule="evenodd"/>
<path d="M592.8 42.3L600.8 42.3L609.3 43.3L670.8 59.1L692.3 63.3L698.3 65L704.3 67.7L709.8 71.3L715.8 78.3L718.3 83.3L721.7 95.3L722.9 105.8L724.4 111.8L725.8 114.2L729.3 117L734.3 119.8L740.3 122.2L750.8 124.3L767.8 125.8L791.8 125.9L791.8 152.3L592.3 152.3L592.3 42.3Z" fill="#482475" fill-rule="evenodd"/>
<path d="M592.8 42.5L600.8 42.6L609.3 43.6L670.8 59.4L692.3 63.6L698.3 65.3L703.9 67.8L709.3 71.8L711.3 74.8L714.1 77.8L716.8 83.1L720.4 95.3L722.3 109.3L723.9 113.8L726.2 116.3L730.8 119.5L739.3 123.2L750.3 125.5L767.8 127.1L791.8 127.1L791.8 152.3L592.3 152.3L592.3 42.5Z" fill="#443983" fill-rule="evenodd"/>
<path d="M592.8 42.8L600.8 42.8L609.3 43.9L670.8 59.7L692.3 63.9L697.8 65.4L703.2 67.8L707.1 70.8L710.1 75.3L713.2 78.8L715.7 83.8L719.2 95.8L721.1 109.8L722.8 114.3L725.3 117.2L729.3 120.1L733.3 122.1L739.3 124.5L744.3 125.7L758.8 127.8L767.8 128.3L791.8 128.4L791.8 152.3L592.3 152.3L592.3 42.8Z" fill="#3d4d8a" fill-rule="evenodd"/>
<path d="M592.8 43.1L600.3 43.1L609.3 44.2L670.8 60L692.3 64.2L697.8 65.7L702.5 67.8L705.5 70.3L708.9 75.8L712 79.3L714.6 84.3L717.9 95.8L720.1 110.8L721.8 115.2L724.6 118.3L728.9 121.3L732.9 123.3L738.3 125.5L744.3 127L758.8 129.1L767.8 129.6L791.8 129.6L791.8 152.3L592.3 152.3L592.3 43.1Z" fill="#355f8d" fill-rule="evenodd"/>
<path d="M592.8 43.3L600.3 43.3L608.8 44.4L670.3 60.2L692.3 64.5L697.8 66L701.7 67.8L703.7 69.3L707.7 76.3L711.1 80.3L713.4 84.8L716.7 96.3L718.9 111.3L720.7 115.8L723.8 119.3L728.3 122.4L732.3 124.5L737.8 126.7L744.3 128.2L758.8 130.3L767.8 130.8L791.8 130.9L791.8 152.3L592.3 152.3L592.3 43.3Z" fill="#2d708e" fill-rule="evenodd"/>
<path d="M592.8 43.6L600.3 43.6L608.8 44.7L670.3 60.4L692.3 64.8L697.8 66.3L700.8 67.8L702.4 69.3L706.5 76.8L709.9 80.8L712.4 85.8L715.4 96.3L717.8 111.8L719.5 116.3L722.8 120.1L727.8 123.6L731.8 125.7L737.3 127.9L744.3 129.5L758.8 131.6L767.8 132.1L791.8 132.1L791.8 152.3L592.3 152.3L592.3 43.6Z" fill="#27808e" fill-rule="evenodd"/>
<path d="M592.8 43.9L600.3 43.9L608.8 44.9L651.8 56.2L656.3 57L670.3 60.7L691.8 65L698.2 66.8L700.8 68.8L704.3 75.8L708.8 81.5L711 85.8L714.1 96.3L716.6 112.3L718.3 116.8L722.3 121.4L727.3 124.8L731.3 126.9L736.8 129.1L744.3 130.8L758.8 132.8L767.8 133.4L791.8 133.4L791.8 143.7L785.8 144.5L779.8 146.5L772.5 150.3L770.9 152.3L715.9 152.3L714.8 150.8L706.8 145.2L704.3 144L701.8 143.7L697.8 144.4L692.8 146.3L687.3 150.3L686.1 152.3L592.3 152.3L592.3 43.9Z" fill="#21918c" fill-rule="evenodd"/>
<path d="M592.8 44.1L600.3 44.2L608.8 45.2L651.8 56.5L656.3 57.3L670.3 61L691.8 65.3L698.2 67.3L699.2 68.3L703.2 76.3L707.8 82.3L709.8 86.3L712.8 97.1L714 106.3L715.5 113.3L717 117.3L722.1 123.8L720.2 130.3L718.8 136.8L717.9 138.8L716.3 140.3L713.8 141L711.3 140.8L709 139.3L703.3 133.3L700.3 124.7L698.3 121.3L695.3 118.5L692.8 117.8L685.8 121.2L679.8 124.9L673.8 129.8L667.7 135.8L665.3 138.7L663.1 142.3L661.7 146.3L660.5 152.3L592.3 152.3L592.3 44.1Z" fill="#1fa188" fill-rule="evenodd"/>
<path d="M592.8 44.4L600.3 44.4L608.8 45.5L669.8 61.2L692.4 65.8L697.6 67.8L701.9 78.3L672.8 99L655.8 110.2L645.3 118.2L637.3 126.2L627.7 137.8L623.6 144.3L619.9 152.3L592.3 152.3L592.3 44.4Z" fill="#2ab07f" fill-rule="evenodd"/>
<path d="M592.8 44.7L600.3 44.8L608.8 45.9L632.6 51.9L651.3 57.2L657.6 58.4L669.8 61.7L691.7 66.3L693.9 67.3L694.6 68.3L689.2 74.8L686.8 76.5L684.8 76.4L676.3 73.9L669.3 73.8L661.4 76.3L643.3 84.7L640.9 86.8L636.8 92.8L630.6 97.8L625.8 102.5L611.8 118.2L603.8 128.3L598.5 136.3L593.8 144.6L592.3 146L592.3 44.7Z" fill="#44bf70" fill-rule="evenodd"/>
<path d="M592.8 45.1L599.8 45.1L609.2 46.4L632.5 52.4L645.3 56.4L647 57.4L635.8 64.6L624.8 73.7L613.8 81.4L612.2 83.8L611.7 87.3L610.8 89.3L602.2 98.3L593.8 110.1L592.3 111.2L592.3 45.1Z" fill="#67cc5c" fill-rule="evenodd"/>
<path d="M592.8 45.8L600.3 45.8L607.8 46.9L612.8 48.3L615.7 49.9L618.5 53.9L619 55.4L618.4 57.4L616.5 59.4L611.1 63.4L601.3 69.1L593.8 76L592.3 76.8L592.3 45.8Z" fill="#90d743" fill-rule="evenodd"/>
<path d="M592.8 50.7L595.3 50.8L596.8 51.4L598.1 52.8L598.7 54.9L598.2 56.4L596.8 57.8L592.3 59.3L592.3 50.7Z" fill="#bddf26" fill-rule="evenodd"/>
<path d="M640 -1C642.9 0 648.7 1.9 657.4 5C666.1 8.1 684.5 14.6 692 17.3C699.5 20 699.1 19.7 702.2 21.4C705.3 23.1 708.4 24.9 710.4 27.5C712.4 30.1 713.5 33.8 714.5 36.7C715.5 39.6 715.6 42.7 716.5 44.9C717.4 47.1 716.9 48.1 719.6 50C722.3 51.9 727.3 54 732.9 56.1C738.5 58.2 746.5 60.9 753.3 62.7C760.1 64.5 767.2 65.4 773.8 66.8C780.4 68.2 789.8 70.4 793 71.1" fill="none" stroke="#ffffff" stroke-width="1.7" stroke-linejoin="round" stroke-linecap="butt"/>
<path d="M592 44.9C595.4 45.2 605.6 45.7 612.4 46.9C619.2 48.1 626.1 50.4 632.9 52.1C639.7 53.8 646.5 55.5 653.3 57.2C660.1 58.9 667.3 60.8 673.8 62.3C680.2 63.8 687.6 64.8 692 66C696.4 67.2 697.7 67.4 700.2 69.4C702.8 71.4 705.3 75.2 707.3 78C709.3 80.8 711 82.8 712.4 86.2C713.8 89.6 714.7 94 715.5 98.4C716.3 102.8 716.5 109.2 717 112.8C717.5 116.4 717.3 117.9 718.6 119.9C719.9 121.9 721.6 123.3 724.7 125C727.8 126.7 732.2 128.8 737 130.1C741.8 131.4 747.2 132.1 753.3 132.8C759.4 133.5 767.3 133.8 773.8 134.2C780.2 134.6 789 135.1 792 135.3" fill="none" stroke="#00ffff" stroke-width="1.7" stroke-linejoin="round" stroke-linecap="butt"/>
<path d="M600 -2C602.4 -0.8 606.6 0.8 614.5 5C622.4 9.2 634.3 16.2 647.2 23C660.1 29.8 682.8 41 692 45.9C701.2 50.8 699.1 49.9 702.2 52.1C705.3 54.3 708.5 56.7 710.4 59.2C712.3 61.8 712.6 64.3 713.5 67.4C714.4 70.5 715 75.1 715.5 78C716 80.9 716.6 84.8 716.6 84.8C716.6 84.8 717.9 76.1 718.6 73.5C719.3 70.9 719.6 70 720.6 69C721.6 68 722.7 67.9 724.7 67.8C726.8 67.7 728.1 67.6 732.9 68.4C737.7 69.2 746.8 70.9 753.3 72.5C759.8 74.1 765.2 75.8 771.8 78C778.4 80.2 789.5 84.2 793 85.5" fill="none" stroke="#ff6347" stroke-width="1.7" stroke-linejoin="round" stroke-linecap="butt"/>
</g>
<rect x="593.1" y="5.6" width="62.3" height="17.2" fill="#fff"/>
<text x="624.2" y="18.3" text-anchor="middle" class="tt">Dead zone</text>
<rect x="592" y="4.6" width="199.9" height="148.2" fill="none" stroke="#000" stroke-width="0.6"/>
<text x="684.7" y="164.2" text-anchor="end" class="tk">10<tspan dy="-2.9" class="st">1</tspan></text>
<text x="771.2" y="164.2" text-anchor="end" class="tk">10<tspan dy="-2.9" class="st">2</tspan></text>
<text x="586.8" y="149.9" text-anchor="end" class="tk">10<tspan dy="-2.9" class="st">−4</tspan></text>
<text x="586.8" y="127.7" text-anchor="end" class="tk">10<tspan dy="-2.9" class="st">−3</tspan></text>
<text x="586.8" y="105.4" text-anchor="end" class="tk">10<tspan dy="-2.9" class="st">−2</tspan></text>
<text x="586.8" y="83.1" text-anchor="end" class="tk">10<tspan dy="-2.9" class="st">−1</tspan></text>
<text x="586.8" y="60.9" text-anchor="end" class="tk">10<tspan dy="-2.9" class="st">0</tspan></text>
<text x="586.8" y="38.6" text-anchor="end" class="tk">10<tspan dy="-2.9" class="st">1</tspan></text>
<text x="586.8" y="16.3" text-anchor="end" class="tk">10<tspan dy="-2.9" class="st">2</tspan></text>
<path d="M678.6 152.8v3.2M765.1 152.8v3.2M592 147.3h-3.4M592 125.1h-3.4M592 102.8h-3.4M592 80.5h-3.4M592 58.2h-3.4M592 36h-3.4M592 13.7h-3.4" stroke="#000" stroke-width="0.8" fill="none"/>
<path d="M618.1 152.8v1.5M633.4 152.8v1.5M644.2 152.8v1.5M652.6 152.8v1.5M659.4 152.8v1.5M665.2 152.8v1.5M670.2 152.8v1.5M674.6 152.8v1.5M704.6 152.8v1.5M719.9 152.8v1.5M730.7 152.8v1.5M739.1 152.8v1.5M745.9 152.8v1.5M751.7 152.8v1.5M756.7 152.8v1.5M761.1 152.8v1.5M791.1 152.8v1.5M592 152.3h-1.5M592 150.8h-1.5M592 149.5h-1.5M592 148.3h-1.5M592 140.6h-1.5M592 136.7h-1.5M592 133.9h-1.5M592 131.8h-1.5M592 130h-1.5M592 128.5h-1.5M592 127.2h-1.5M592 126.1h-1.5M592 118.4h-1.5M592 114.4h-1.5M592 111.7h-1.5M592 109.5h-1.5M592 107.7h-1.5M592 106.2h-1.5M592 104.9h-1.5M592 103.8h-1.5M592 96.1h-1.5M592 92.2h-1.5M592 89.4h-1.5M592 87.2h-1.5M592 85.5h-1.5M592 84h-1.5M592 82.7h-1.5M592 81.5h-1.5M592 73.8h-1.5M592 69.9h-1.5M592 67.1h-1.5M592 65h-1.5M592 63.2h-1.5M592 61.7h-1.5M592 60.4h-1.5M592 59.3h-1.5M592 51.5h-1.5M592 47.6h-1.5M592 44.8h-1.5M592 42.7h-1.5M592 40.9h-1.5M592 39.4h-1.5M592 38.1h-1.5M592 37h-1.5M592 29.3h-1.5M592 25.4h-1.5M592 22.6h-1.5M592 20.4h-1.5M592 18.7h-1.5M592 17.2h-1.5M592 15.9h-1.5M592 14.7h-1.5M592 7h-1.5" stroke="#000" stroke-width="0.55" fill="none"/>
<text x="692" y="175.5" text-anchor="middle" class="lb">radius [au]</text>
<text transform="translate(564.2 78.7) rotate(-90)" text-anchor="middle" class="lb">grain size [cm]</text>
<g>
<path d="M793.9 11.6L796 4.6L798.1 11.6Z" fill="#fde725"/>
<path d="M793.9 145.8L796 152.8L798.1 145.8Z" fill="#440154"/>
<rect x="793.9" y="137" width="4.2" height="9.2" fill="#470d60"/>
<rect x="793.9" y="128" width="4.2" height="9.2" fill="#482475"/>
<rect x="793.9" y="119" width="4.2" height="9.2" fill="#443983"/>
<rect x="793.9" y="110" width="4.2" height="9.2" fill="#3d4d8a"/>
<rect x="793.9" y="101.1" width="4.2" height="9.2" fill="#355f8d"/>
<rect x="793.9" y="92.1" width="4.2" height="9.2" fill="#2d708e"/>
<rect x="793.9" y="83.1" width="4.2" height="9.2" fill="#27808e"/>
<rect x="793.9" y="74.1" width="4.2" height="9.2" fill="#21918c"/>
<rect x="793.9" y="65.1" width="4.2" height="9.2" fill="#1fa188"/>
<rect x="793.9" y="56.1" width="4.2" height="9.2" fill="#2ab07f"/>
<rect x="793.9" y="47.2" width="4.2" height="9.2" fill="#44bf70"/>
<rect x="793.9" y="38.2" width="4.2" height="9.2" fill="#67cc5c"/>
<rect x="793.9" y="29.2" width="4.2" height="9.2" fill="#90d743"/>
<rect x="793.9" y="20.2" width="4.2" height="9.2" fill="#bddf26"/>
<rect x="793.9" y="11.2" width="4.2" height="9.2" fill="#eae51a"/>
<path d="M793.9 11.3L796 4.6L798.1 11.3L798.1 146.1L796 152.8L793.9 146.1Z" fill="none" stroke="#000" stroke-width="0.5"/>
<text x="801.7" y="149" class="ck">−7</text>
<text x="801.7" y="131" class="ck">−6</text>
<text x="801.7" y="113" class="ck">−5</text>
<text x="801.7" y="95.1" class="ck">−4</text>
<text x="801.7" y="77.1" class="ck">−3</text>
<text x="801.7" y="59.1" class="ck">−2</text>
<text x="801.7" y="41.2" class="ck">−1</text>
<text x="801.7" y="23.2" class="ck">0</text>
<path d="M798.1 146.1h2.0M798.1 128.1h2.0M798.1 110.1h2.0M798.1 92.2h2.0M798.1 74.2h2.0M798.1 56.2h2.0M798.1 38.3h2.0M798.1 20.3h2.0" stroke="#000" stroke-width="0.8" fill="none"/>
<text transform="translate(823 78.7) rotate(-90)" text-anchor="middle" class="lb">log<tspan dy="1.8" class="sp">10</tspan><tspan dy="-1.8">(<tspan font-style="italic">σ</tspan></tspan><tspan dy="1.8" class="sp">dust</tspan><tspan dy="-1.8">)[g/cm</tspan><tspan dy="-3.4" class="sp">2</tspan><tspan dy="3.4">]</tspan></text>
</g>
<g clip-path="url(#cp3)">
<rect x="37.5" y="184" width="201.8" height="150.8" fill="#440154"/>
<path d="M119.3 229.7L122.8 229.3L126.6 230.8L133.2 241.4L138.8 246.9L143.8 250.4L157.2 258.2L182.8 270.7L199.2 280L212.2 289L217.8 293.9L222.6 298.8L226 303.2L229.2 308.2L230.6 311.8L232 314.2L234.2 320.8L234.2 333.8L189.9 333.8L186.8 329.6L182.8 326.4L172.2 320.6L168.2 318.8L153.8 314L140.2 310.4L139.8 310.4L139.2 311.8L137.6 333.8L101.8 333.8L101.8 307.2L103.2 295.8L103.3 289.2L105.3 276.8L108.2 265.8L109.8 252.8L113.3 238.2L116 232.8Z" fill="#470d60" fill-rule="evenodd"/>
<path d="M120.2 230.2L122.8 230.2L126.2 231.6L132.4 241.8L138.2 247.6L143.5 251.2L157.2 259.2L190.2 275.7L206.3 285.7L212.3 290.1L217.2 294.6L221.9 299.2L225.3 303.8L228.5 308.8L231.3 314.8L233.4 321.2L233.4 333.8L196.9 333.8L194.9 329.8L190.8 325L186.8 321.8L179.8 317.3L171.3 313.2L164.8 310.9L137.8 302.4L136.5 307.2L134.7 333.8L102.6 333.8L102.6 307.8L104.1 295.8L104.1 289.8L106.1 277.2L109.5 263.2L109.6 259.2L111.6 248.2L114.2 238.2L116.7 233.2Z" fill="#482475" fill-rule="evenodd"/>
<path d="M120.3 231.2L122.2 231L125.6 232.2L131.7 242.2L137.7 248.2L141.8 251.1L156.5 259.8L181.8 272.2L198.2 281.4L211.2 290.4L216.8 295.3L221.2 299.8L224.5 304.2L227.8 309.1L230.3 314.8L232.6 321.8L232.6 333.8L203.4 333.8L201.2 328.5L197.8 323.6L191.4 317.8L183.8 312.6L174.2 307.8L167.8 305.3L135.2 294.3L134.6 295.8L134.2 303.8L133.5 307.2L131.7 333.8L103.9 333.8L103.6 307.8L105.5 286.2L107 277.2L110.3 263.8L110.4 259.8L111.5 253.2L114 242.2L115.2 238.2L117.2 234.1Z" fill="#443983" fill-rule="evenodd"/>
<path d="M120.2 232.1L121.8 231.8L124.9 232.7L131 242.8L137.2 249L142.6 252.8L156.2 260.6L189.3 277.2L197.9 282.2L211.2 291.8L219.8 300.2L226.8 310L229.3 315.2L231.4 321.2L231.7 333.8L209.3 333.7L209.2 331.8L206.8 326.2L202.7 320.2L195.8 313.7L187.8 308.1L177.2 302.5L170.8 299.8L133.2 286.1L132.6 287.2L131.6 295.2L128.7 333.8L106.8 333.8L105.9 305.2L106.1 292.2L106.9 283.8L107.9 277.2L111.1 263.8L111.3 259.8L112.3 253.8L114.9 242.2L115.9 238.8L117.9 234.8Z" fill="#3d4d8a" fill-rule="evenodd"/>
<path d="M121.2 232.7L123.8 233.1L124.6 233.8L128.5 240.8L130.4 243.2L136.3 249.2L139.2 251.5L149.2 257.8L176.8 271.8L188.3 278.2L201.8 288.4L215.5 302.8L221.1 310.2L224.9 316.8L227.3 322.8L228.9 329.2L229.4 333.8L215 333.8L214.2 328.8L211.2 322.2L208.1 317.8L200.2 309.9L191.2 303.2L179.8 297L173.2 294.2L131.2 278L130.8 278.3L129.8 282.2L125.7 333.8L109.8 333.8L108.9 305.2L109 278.2L112 263.8L113.2 253.8L115.8 242.2L116.8 238.8L118.6 235.2L120.2 233.2Z" fill="#355f8d" fill-rule="evenodd"/>
<path d="M121.2 233.6L123.9 234.2L129.8 244L137.8 252.1L144.8 257.5L173.8 275.4L186.8 284L197.8 292.9L204.6 300.8L206.2 304L201.9 302.2L195.2 297.8L182.2 291.1L167.8 285L136.2 273L129.8 269.3L128.8 269.2L126.7 282.2L122.5 333.8L113 333.8L112 305.2L112.3 301.8L111.8 272.2L113 260.2L115.2 247.7L117.5 239.2L119.5 235.2Z" fill="#2d708e" fill-rule="evenodd"/>
<path d="M121.3 234.7L122.2 234.5L123.2 234.9L125.8 239.2L127.6 243.2L127.5 247.8L128 249.8L130.9 255.2L135.5 261.2L135.2 261.8L131.8 261L127.2 257.8L126.8 258L125.5 264.8L121.4 303.8L119.2 318.1L118.2 321.4L117.2 318.1L115.7 305.2L115.9 302.2L114.9 280.2L115.1 254.2L116.2 247.8L118.2 239.8L120.2 235.8Z" fill="#27808e" fill-rule="evenodd"/>
<path d="M121.8 235.6L122.9 236.2L124.6 240.8L123.2 250.8L120.8 261.3L119.8 258.1L119 252.8L118.7 243.3L119.8 238.9Z" fill="#21918c" fill-rule="evenodd"/>
<path d="M101.3 335C101.3 330.3 101.4 317.6 101.5 307C101.6 296.4 101.5 280.7 101.9 271.3C102.3 261.9 102.9 256.9 104 250.8C105.1 244.7 106.3 238.8 108.4 234.4C110.5 230 113.2 226.8 116.6 224.2C120 221.6 124.8 220.1 128.9 219.1C133 218.1 136.4 217.8 141.2 218.1C146 218.4 152.1 220 157.5 221.2C162.9 222.4 168.7 223.6 173.9 225.2C179.2 226.8 183.8 228.4 189 230.6C194.2 232.8 200.5 235.9 205 238.5C209.5 241.1 212.5 243.1 216 246C219.5 248.9 223.3 252.8 226 256C228.7 259.2 230.4 262.2 232 265.5C233.6 268.8 234.6 271.8 235.4 276C236.2 280.2 236.3 280.9 236.6 290.7C236.9 300.5 236.9 327.6 237 335" fill="none" stroke="#ffffff" stroke-width="1.7" stroke-linejoin="round" stroke-linecap="butt"/>
<path d="M101.3 335C101.4 330.3 101.7 314.8 102 307C102.3 299.2 102.9 293.9 103.3 288C103.7 282.1 103.9 276.5 104.4 271.3C104.9 266.1 105.1 261.3 106.4 256.9C107.8 252.5 110.4 247.7 112.5 244.7C114.6 241.7 116.9 240.2 119 238.8C121.1 237.4 122.8 237.1 125 236.2C127.2 235.3 129.6 234 131.9 233.4C134.2 232.8 135.3 232.7 138.8 232.5C142.3 232.3 148.1 231.8 152.7 232C157.3 232.2 161.9 233.2 166.5 233.9C171.1 234.7 175.4 235.5 180 236.5C184.6 237.5 189.2 238.4 193.8 240C198.4 241.6 203.1 243.6 207.7 246.3C212.3 249 218.1 253 221.5 256C224.9 259 226.7 262 228.4 264.3C230.1 266.6 230.8 267.6 231.9 270C233 272.4 234 275.7 234.8 279C235.6 282.3 236.2 286.5 236.6 290C237 293.5 237.2 292.5 237.3 300C237.5 307.5 237.5 329.2 237.5 335" fill="none" stroke="#00ffff" stroke-width="1.7" stroke-linejoin="round" stroke-linecap="butt"/>
<path d="M101.5 335C101.7 330.3 102 316.1 102.7 307C103.4 297.9 104.5 287 105.4 280.4C106.4 273.8 107.2 273.1 108.4 267.2C109.6 261.2 111.3 251.5 112.5 244.7C113.7 237.9 114.6 231.4 115.6 226.3C116.6 221.2 117.2 220.7 118.3 214C119.3 207.3 121.2 192 121.9 186C122.6 180 122.4 179.3 122.5 178" fill="none" stroke="#ff6347" stroke-width="1.7" stroke-linejoin="round" stroke-linecap="butt"/>
<path d="M123.4 178C123.6 184 124.2 205.9 124.8 214C125.4 222.1 126.2 222.6 126.9 226.3C127.6 230.1 127.9 233.4 128.9 236.5C129.9 239.6 130.9 242 133 244.7C135.1 247.4 137.1 250 141.2 252.9C145.3 255.8 152.1 259.2 157.5 262.1C162.9 265 168.6 267.5 173.9 270.2C179.2 272.9 183.8 275.3 189.1 278.4C194.4 281.5 200.7 285.2 205.5 288.6C210.3 292 214.4 295.5 217.8 298.9C221.2 302.3 223.7 305.4 225.9 309.1C228.1 312.8 229.9 317 231 321.3C232.1 325.6 232.3 332.7 232.6 335" fill="none" stroke="#ff6347" stroke-width="1.7" stroke-linejoin="round" stroke-linecap="butt"/>
</g>
<rect x="38.9" y="186.3" width="99.2" height="28.4" fill="#fff"/>
<text x="88.5" y="198.4" text-anchor="middle" class="tt">Internal</text>
<text x="88.5" y="209.2" text-anchor="middle" class="tt">photoevaporation</text>
<g class="lg"><path d="M148.7 194.7H160.6" stroke="#fff" stroke-width="1.6"/><text x="164.9" y="197.8" style="fill:#fff;stroke:#fff">St=1</text><path d="M148.7 205.4H160.6" stroke="#00ffff" stroke-width="1.6"/><text x="164.9" y="208.3" style="fill:#00ffff;stroke:#00ffff"><tspan font-style="italic">a</tspan><tspan dy="1.8" class="sp">frag</tspan></text><path d="M197.7 194.7H209.9" stroke="#ff6347" stroke-width="1.6"/><text x="214.1" y="197.6" style="fill:#ff6347;stroke:#ff6347"><tspan font-style="italic">a</tspan><tspan dy="1.8" class="sp">drift</tspan></text></g>
<rect x="38.5" y="185" width="199.8" height="148.8" fill="none" stroke="#000" stroke-width="0.6"/>
<text x="86.4" y="345.2" text-anchor="end" class="tk">10<tspan dy="-2.9" class="st">1</tspan></text>
<text x="193.4" y="345.2" text-anchor="end" class="tk">10<tspan dy="-2.9" class="st">2</tspan></text>
<text x="33.9" y="329.4" text-anchor="end" class="tk">10<tspan dy="-2.9" class="st">−4</tspan></text>
<text x="33.9" y="303.1" text-anchor="end" class="tk">10<tspan dy="-2.9" class="st">−3</tspan></text>
<text x="33.9" y="276.8" text-anchor="end" class="tk">10<tspan dy="-2.9" class="st">−2</tspan></text>
<text x="33.9" y="250.5" text-anchor="end" class="tk">10<tspan dy="-2.9" class="st">−1</tspan></text>
<text x="33.9" y="224.2" text-anchor="end" class="tk">10<tspan dy="-2.9" class="st">0</tspan></text>
<text x="33.9" y="197.9" text-anchor="end" class="tk">10<tspan dy="-2.9" class="st">1</tspan></text>
<path d="M80.3 333.8v3.2M187.3 333.8v3.2M38.5 326.8h-3.4M38.5 300.5h-3.4M38.5 274.2h-3.4M38.5 247.9h-3.4M38.5 221.6h-3.4M38.5 195.3h-3.4" stroke="#000" stroke-width="0.8" fill="none"/>
<path d="M48.1 333.8v1.5M56.6 333.8v1.5M63.7 333.8v1.5M69.9 333.8v1.5M75.4 333.8v1.5M112.5 333.8v1.5M131.4 333.8v1.5M144.7 333.8v1.5M155.1 333.8v1.5M163.6 333.8v1.5M170.7 333.8v1.5M176.9 333.8v1.5M182.4 333.8v1.5M219.5 333.8v1.5M38.5 332.6h-1.5M38.5 330.9h-1.5M38.5 329.3h-1.5M38.5 328h-1.5M38.5 318.9h-1.5M38.5 314.3h-1.5M38.5 311h-1.5M38.5 308.4h-1.5M38.5 306.3h-1.5M38.5 304.6h-1.5M38.5 303h-1.5M38.5 301.7h-1.5M38.5 292.6h-1.5M38.5 288h-1.5M38.5 284.7h-1.5M38.5 282.1h-1.5M38.5 280h-1.5M38.5 278.3h-1.5M38.5 276.7h-1.5M38.5 275.4h-1.5M38.5 266.3h-1.5M38.5 261.7h-1.5M38.5 258.4h-1.5M38.5 255.8h-1.5M38.5 253.7h-1.5M38.5 252h-1.5M38.5 250.4h-1.5M38.5 249.1h-1.5M38.5 240h-1.5M38.5 235.4h-1.5M38.5 232.1h-1.5M38.5 229.5h-1.5M38.5 227.4h-1.5M38.5 225.7h-1.5M38.5 224.1h-1.5M38.5 222.8h-1.5M38.5 213.7h-1.5M38.5 209.1h-1.5M38.5 205.8h-1.5M38.5 203.2h-1.5M38.5 201.1h-1.5M38.5 199.4h-1.5M38.5 197.8h-1.5M38.5 196.5h-1.5M38.5 187.4h-1.5" stroke="#000" stroke-width="0.55" fill="none"/>
<text x="138.4" y="356.2" text-anchor="middle" class="lb">radius [au]</text>
<text transform="translate(10.2 259.4) rotate(-90)" text-anchor="middle" class="lb">grain size [cm]</text>
<g>
<path d="M240.4 192.1L242.5 185L244.6 192.1Z" fill="#fde725"/>
<path d="M240.4 326.7L242.5 333.8L244.6 326.7Z" fill="#440154"/>
<rect x="240.4" y="317.9" width="4.2" height="9.2" fill="#470d60"/>
<rect x="240.4" y="308.9" width="4.2" height="9.2" fill="#482475"/>
<rect x="240.4" y="299.9" width="4.2" height="9.2" fill="#443983"/>
<rect x="240.4" y="290.9" width="4.2" height="9.2" fill="#3d4d8a"/>
<rect x="240.4" y="281.8" width="4.2" height="9.2" fill="#355f8d"/>
<rect x="240.4" y="272.8" width="4.2" height="9.2" fill="#2d708e"/>
<rect x="240.4" y="263.8" width="4.2" height="9.2" fill="#27808e"/>
<rect x="240.4" y="254.8" width="4.2" height="9.2" fill="#21918c"/>
<rect x="240.4" y="245.8" width="4.2" height="9.2" fill="#1fa188"/>
<rect x="240.4" y="236.8" width="4.2" height="9.2" fill="#2ab07f"/>
<rect x="240.4" y="227.7" width="4.2" height="9.2" fill="#44bf70"/>
<rect x="240.4" y="218.7" width="4.2" height="9.2" fill="#67cc5c"/>
<rect x="240.4" y="209.7" width="4.2" height="9.2" fill="#90d743"/>
<rect x="240.4" y="200.7" width="4.2" height="9.2" fill="#bddf26"/>
<rect x="240.4" y="191.7" width="4.2" height="9.2" fill="#eae51a"/>
<path d="M240.4 191.8L242.5 185L244.6 191.8L244.6 327L242.5 333.8L240.4 327Z" fill="none" stroke="#000" stroke-width="0.5"/>
<text x="248.2" y="329.9" class="ck">−7</text>
<text x="248.2" y="311.9" class="ck">−6</text>
<text x="248.2" y="293.9" class="ck">−5</text>
<text x="248.2" y="275.8" class="ck">−4</text>
<text x="248.2" y="257.8" class="ck">−3</text>
<text x="248.2" y="239.8" class="ck">−2</text>
<text x="248.2" y="221.7" class="ck">−1</text>
<text x="248.2" y="203.7" class="ck">0</text>
<path d="M244.6 327h2.0M244.6 309h2.0M244.6 291h2.0M244.6 272.9h2.0M244.6 254.9h2.0M244.6 236.9h2.0M244.6 218.8h2.0M244.6 200.8h2.0" stroke="#000" stroke-width="0.8" fill="none"/>
<text transform="translate(269.2 259.4) rotate(-90)" text-anchor="middle" class="lb">log<tspan dy="1.8" class="sp">10</tspan><tspan dy="-1.8">(<tspan font-style="italic">σ</tspan></tspan><tspan dy="1.8" class="sp">dust</tspan><tspan dy="-1.8">)[g/cm</tspan><tspan dy="-3.4" class="sp">2</tspan><tspan dy="3.4">]</tspan></text>
</g>
<g clip-path="url(#cp4)">
<rect x="314.4" y="184" width="201.5" height="150.8" fill="#440154"/>
<path d="M436.6 223.1L438.1 223.1L439.7 224.8L442.5 236.2L445.5 246.2L448 251.8L453 260.2L457.6 264.9L466.1 270.9L476.7 275.8L481.6 279L497.9 294.8L503.4 301.8L508.4 310.8L512.1 321.2L512.1 333.8L369.1 333.7L369.1 307.8L369.6 305.8L370.1 295.8L371.6 286.2L371.6 281.8L373 275.2L373.1 270.8L374 267.2L374.1 263.2L375 260.2L375.1 257.2L378.6 243.2L380.6 239.2L384.6 235L387.6 233.5L389.6 233.3L392.1 234.4L394.4 237.2L396.9 241.8L403.1 255.2L409 265.2L417.1 275.9L419.6 277.7L421.1 277.7L422.7 276.8L425.5 271.2L428.5 256.8L429.4 248.2L430.8 241.2L430.9 238.2L431.9 233.2L434 226.2L435.5 223.8Z" fill="#470d60" fill-rule="evenodd"/>
<path d="M436.6 223.6L438.1 223.6L439.4 225.2L442.5 238.2L445 246.2L452.3 260.8L457.1 265.6L465.8 271.8L476.6 276.7L481.2 279.8L497.2 295.2L502.6 302.2L507.6 311.2L511.1 321.2L511.3 333.8L369.9 333.8L370 307.8L370.4 306.2L371 296.2L372.4 286.8L372.5 282.2L373.9 275.2L374 271.2L374.9 267.2L375 263.8L375.9 260.2L376 257.8L379.6 243.2L381.1 240.2L384.6 236.1L387.6 234.5L389.1 234.1L391.6 235.1L393.6 237.8L396.1 242.2L402.4 255.8L408.1 265.6L416.7 276.8L419.1 278.4L421.6 278.4L423.6 277.1L426.3 271.8L429.2 257.2L429.8 248.2L431.2 241.8L431.3 238.2L432.3 233.2L434.4 226.2Z" fill="#482475" fill-rule="evenodd"/>
<path d="M436.6 224.1L437.6 223.9L439 225.2L442.1 238.2L444.8 246.8L447.6 252.9L450.3 257.2L451.6 261.2L456.6 266.3L465.6 272.6L476.1 277.4L481 280.8L496.5 295.8L501.9 302.8L506.7 311.2L510.4 321.8L510.4 333.8L370.8 333.8L370.8 308.2L371.8 296.8L373.2 286.8L373.3 282.8L374.7 275.2L374.8 271.8L376.8 257.8L380.3 243.8L381.8 240.8L385.9 236.2L388.6 235L391.1 235.8L395.6 243.1L401.7 256.2L407.2 265.8L416.6 277.8L419.1 279.3L421.6 279.3L424.1 277.8L425.5 275.8L427.2 271.8L429.5 258.2L429.6 252.8L431.6 241.7L431.7 238.2L433.7 229.2L435.2 225.8Z" fill="#443983" fill-rule="evenodd"/>
<path d="M436.6 224.6L437.6 224.4L438.6 225.4L441.9 238.8L444.4 246.8L447.3 253.2L450.1 257.8L450.9 261.8L456.1 267L465 273.2L475.6 278.1L480.6 281.5L495.8 296.2L501.2 303.2L506 311.8L509.5 321.8L509.6 333.8L478 333.8L476.3 330.2L473.6 326.5L473.1 327.6L472.6 333.8L402.7 333.8L403.5 326.8L403.2 319.8L402.1 314.6L401.1 312.9L400.1 312.5L398.5 314.8L397.4 320.2L397.2 327.2L398 333.8L371.6 333.8L371.6 308.8L372.6 296.8L374.1 286.8L374.1 282.8L375.6 275.2L375.6 271.8L377.6 258.2L379.2 250.8L381.2 243.8L382.5 241.2L386.6 236.9L388.6 235.9L390.8 236.8L395.1 243.9L401 256.8L409.1 269.9L416.1 278.5L418.6 280L422.1 280L423.7 279.2L425.1 277.9L427.9 272.2L430 258.2L430 252.8L432 241.8L432 238.8L434.1 229.2L435.6 225.8Z" fill="#3d4d8a" fill-rule="evenodd"/>
<path d="M436.6 225.2L437.6 224.9L438.3 225.8L441.5 238.8L444 246.8L446.9 253.2L449.6 257.8L450.6 262.7L455.6 267.7L464.6 274L474.9 278.8L480.1 282.2L494.9 296.8L502.1 306.7L505.1 312.5L508.6 322.2L508.7 333.8L488.3 333.8L487.9 331.2L485.6 326.3L480.9 319.2L473.6 311.4L465.6 305.5L463.6 304.6L463 305.2L462.4 311.8L461.7 314.8L460.1 333.8L406.8 333.8L406.8 322.8L405.5 312.2L403.1 305.2L401.9 303.8L400.6 303.1L399.1 303.9L398.1 305.3L396.7 308.8L395.8 312.8L394.8 322.8L395 333.8L372.5 333.8L372.4 308.8L374.9 286.8L375 282.8L376.4 275.2L376.5 271.8L378.5 258.2L380.3 250.2L382.2 243.8L383.2 241.8L386.6 237.8L388.6 236.9L390.1 237.2L394.3 244.2L400.3 257.2L405.8 266.8L408.6 270.6L414.2 277.8L416.1 279.6L419.1 281L422.6 280.8L425.6 278.6L426.9 276.8L428.3 273.2L428.9 266.2L430.3 258.2L430.4 252.8L432.3 241.8L432.4 238.8L434.4 229.8Z" fill="#355f8d" fill-rule="evenodd"/>
<path d="M437.1 225.4L437.8 225.8L438.4 227.2L441.1 238.8L443.7 247.3L446.7 253.8L449.1 257.8L449.7 259.8L449.9 263.2L457.6 270.6L468.6 278.4L477.6 285.5L483.6 292.4L490.1 301.4L494.2 309.2L497.1 317.4L497.6 319.8L497.1 320.7L495.1 319.3L482.6 306L471.1 297.5L460.6 293.5L452.1 290.9L451.5 291.8L449.9 311.2L449.1 314.8L448 333.8L424.2 333.8L423 312.8L423.2 309.2L421 282.8L425.6 279.9L427.6 277.2L428.6 274.7L429.3 266.2L430.7 258.2L430.8 253.2L432.7 241.8L432.8 238.8L434.8 229.8L436.1 226.5ZM389.1 237.7L390.6 239.4L393.6 244.8L399.3 257.2L407.6 271.9L405.7 274.8L402.7 282.8L396.6 292.2L394.2 299.2L392.1 312.2L391 333.8L380.3 333.8L380.1 329L374.7 307.2L374.7 297.2L376 286.8L376 283.2L377.3 275.8L378.4 264.8L381 250.8L383.9 242.3L386.8 238.8Z" fill="#2d708e" fill-rule="evenodd"/>
<path d="M437.1 226.1L438 227.2L440.7 238.8L443.3 247.2L447.5 256.8L446.9 269.8L447.5 273.2L446.6 274.5L446.2 277.2L443.3 333.8L428.9 333.8L427.2 280.2L428.6 277.2L429.2 274.2L429.7 266.8L431.1 258.2L431.2 253.2L433.1 241.8L433.2 238.8L435.2 229.8ZM387.6 239.2L389.1 238.9L390.1 240.2L393.1 245.8L395.2 251.7L389.9 306.2L389.2 309.2L387.6 323.3L386.1 329L384.6 323.9L382.7 307.8L383 304.8L382 291.2L382.2 287.8L380.9 257.8L381.8 251.2L383.8 244.2Z" fill="#27808e" fill-rule="evenodd"/>
<path d="M437.1 226.8L441.4 242.8L444.2 250.2L444.4 252.2L441.2 333.8L431 333.8L429.9 271.2L431.5 258.2L431.6 253.2L433.6 239.2L435.7 229.8ZM388.1 240L388.6 239.8L389.6 241.1L391.7 245.2L392.1 247.2L391.5 254.8L390.8 257.8L389.2 271.2L387.1 277L385.7 272.2L385.9 270.2L384.3 256.2L384.2 248.2L385.1 243.8Z" fill="#21918c" fill-rule="evenodd"/>
<path d="M437.1 228.1L443.1 249.8L440.9 311.2L440.3 314.8L439.8 333.8L432.4 333.8L431.1 267.8L432 253.2L434 239.2L435.9 230.2Z" fill="#1fa188" fill-rule="evenodd"/>
<path d="M436.6 229.7L437.1 229.5L437.9 231.8L441.3 244.8L441.8 249.3L439.4 311.2L438.8 314.2L438 333.8L434.2 333.8L432.4 268.2L432.8 265.2L432.6 253.8L434.4 239.2Z" fill="#2ab07f" fill-rule="evenodd"/>
<path d="M437.1 231L440.4 245.2L439.7 266.8L439.2 269.2L437.6 302.8L436.6 311.9L435.6 302.8L434.6 283L433.9 249.2L434.8 239.2L436.1 232.8L436.6 231.3Z" fill="#44bf70" fill-rule="evenodd"/>
<path d="M437.1 232.7L438.5 240.2L438.6 243.2L437.1 263.4L435.6 244.2L436.1 236L436.6 233.1Z" fill="#67cc5c" fill-rule="evenodd"/>
<path d="M368.9 335C368.9 327.2 368.8 299.6 368.9 288C369 276.4 369.1 272.3 369.7 265.1C370.3 257.9 371.1 250.1 372.4 244.7C373.7 239.2 375.3 235.7 377.5 232.4C379.7 229.2 382.6 226.8 385.7 225.2C388.8 223.6 392.8 222.6 395.9 222.6C399 222.6 401.4 223.6 404.1 225.2C406.8 226.8 409.9 230 412.3 232.4C414.7 234.8 416.7 238.2 418.4 239.6C420.1 241 421.1 241.1 422.5 240.6C423.9 240.1 425.1 238.9 426.6 236.5C428.1 234.1 430 228.6 431.7 226.3C433.4 224 435.2 223.2 436.8 222.6C438.4 222 438 222 441.1 222.6C444.2 223.2 449.6 224.3 455.4 226.3C461.2 228.3 469.8 231.3 475.9 234.4C482 237.5 487.5 240.9 492.3 244.7C497.1 248.4 501.4 252.8 504.5 256.9C507.6 261 509.3 264.8 510.7 269.2C512.1 273.6 512.6 278.4 513.1 283.5C513.6 288.6 513.6 291.4 513.7 300C513.8 308.6 513.8 329.2 513.8 335" fill="none" stroke="#ffffff" stroke-width="1.7" stroke-linejoin="round" stroke-linecap="butt"/>
<path d="M368.9 335C369.1 330.3 369.6 314.8 370 307C370.4 299.2 370.6 294.3 371 288C371.4 281.7 371.7 274.7 372.4 269.2C373.1 263.7 373.9 259 375.4 254.9C376.9 250.8 379.2 247.2 381.6 244.7C384 242.1 387.1 240.6 389.8 239.6C392.5 238.6 395.3 238.4 397.9 238.9C400.4 239.4 402.9 239.9 405.1 242.6C407.3 245.3 409.3 250.8 411.2 254.9C413.1 259 414.7 264.3 416.3 267.2C417.9 270.1 419.2 272.3 420.8 272.3C422.4 272.3 424.1 270.4 425.6 267.2C427.1 264 428.2 257.7 429.6 252.9C431 248.1 432.3 241.7 433.7 238.5C435.1 235.3 436.6 234.8 437.8 234C439 233.2 438.2 233.1 441.1 233.4C444 233.7 450.8 234.7 455.4 235.7C460 236.7 464.2 237.7 468.8 239.2C473.4 240.7 478.1 242.3 482.7 244.7C487.3 247.1 493.1 251 496.5 253.7C499.9 256.4 501.7 258.7 503.4 260.6C505.1 262.5 505.7 263 506.9 265C508.1 267 509.6 269.9 510.5 272.8C511.4 275.7 512.1 278.8 512.6 282.5C513.1 286.2 513.2 286.2 513.4 295C513.6 303.8 513.7 328.3 513.7 335" fill="none" stroke="#00ffff" stroke-width="1.7" stroke-linejoin="round" stroke-linecap="butt"/>
<path d="M369.3 335C369.5 330.3 370 314.8 370.5 307C371 299.2 371.6 295 372.4 288C373.2 281 374.4 272.3 375.4 265.1C376.4 257.9 377.5 251.2 378.5 244.7C379.5 238.2 380.5 231.4 381.2 226.3C381.9 221.2 381.7 220.7 382.6 214C383.5 207.3 385.7 192 386.5 186C387.3 180 387.3 179.3 387.5 178" fill="none" stroke="#ff6347" stroke-width="1.7" stroke-linejoin="round" stroke-linecap="butt"/>
<path d="M390 178C390.5 184 392 205.9 392.8 214C393.6 222.1 393.9 221.9 394.9 226.3C395.9 230.7 397.1 235.8 399 240.6C400.9 245.4 403.9 250.8 406.1 254.9C408.3 259 410.7 263 412.3 265.1C413.9 267.2 414.5 268 415.7 267.6C416.9 267.2 418.3 266.8 419.4 263C420.5 259.2 421.4 250.8 422.1 244.7C422.8 238.6 423.2 231.4 423.5 226.3C423.8 221.2 423.9 222.1 424.1 214C424.3 205.9 424.5 184 424.6 178" fill="none" stroke="#ff6347" stroke-width="1.7" stroke-linejoin="round" stroke-linecap="butt"/>
<path d="M425.2 178C425.3 184 425.4 204.5 425.6 214C425.8 223.5 426.1 229 426.3 235C426.5 241 426.7 248.5 427 249.8C427.3 251.1 427.8 245.6 428.2 243C428.6 240.4 429.1 237.6 429.6 234.4C430.1 231.2 430.8 227.4 431.3 224C431.8 220.6 431.9 220.3 432.7 214C433.5 207.7 435.4 192 436 186C436.6 180 436.4 179.3 436.5 178" fill="none" stroke="#ff6347" stroke-width="1.7" stroke-linejoin="round" stroke-linecap="butt"/>
<path d="M437.2 178C437.4 184 438.2 205.9 438.7 214C439.2 222.1 439.4 221.5 440.1 226.3C440.9 231.1 442 237.8 443.2 242.6C444.4 247.4 445.6 251.2 447.3 254.9C449 258.7 450.7 262 453.4 265.1C456.1 268.2 459.9 270.9 463.6 273.3C467.4 275.7 472.5 277.2 475.9 279.4C479.3 281.6 480.7 283.4 484.1 286.6C487.5 289.9 492.9 294.8 496.3 298.9C499.7 303 502.4 307 504.5 311.1C506.6 315.2 507.9 319.4 509 323.4C510.1 327.4 510.5 333.1 510.8 335" fill="none" stroke="#ff6347" stroke-width="1.7" stroke-linejoin="round" stroke-linecap="butt"/>
</g>
<rect x="316.4" y="186.1" width="156.6" height="28.2" fill="#fff"/>
<text x="394.7" y="198.7" text-anchor="middle" class="tt">Internal photoevaporation and</text>
<text x="394.7" y="209.4" text-anchor="middle" class="tt">a Neptune-type planet</text>
<rect x="315.4" y="185" width="199.5" height="148.8" fill="none" stroke="#000" stroke-width="0.6"/>
<text x="363.2" y="345.2" text-anchor="end" class="tk">10<tspan dy="-2.9" class="st">1</tspan></text>
<text x="470.9" y="345.2" text-anchor="end" class="tk">10<tspan dy="-2.9" class="st">2</tspan></text>
<text x="310.8" y="329.4" text-anchor="end" class="tk">10<tspan dy="-2.9" class="st">−4</tspan></text>
<text x="310.8" y="303.1" text-anchor="end" class="tk">10<tspan dy="-2.9" class="st">−3</tspan></text>
<text x="310.8" y="276.8" text-anchor="end" class="tk">10<tspan dy="-2.9" class="st">−2</tspan></text>
<text x="310.8" y="250.5" text-anchor="end" class="tk">10<tspan dy="-2.9" class="st">−1</tspan></text>
<text x="310.8" y="224.2" text-anchor="end" class="tk">10<tspan dy="-2.9" class="st">0</tspan></text>
<text x="310.8" y="197.9" text-anchor="end" class="tk">10<tspan dy="-2.9" class="st">1</tspan></text>
<path d="M357.1 333.8v3.2M464.8 333.8v3.2M315.4 326.8h-3.4M315.4 300.5h-3.4M315.4 274.2h-3.4M315.4 247.9h-3.4M315.4 221.6h-3.4M315.4 195.3h-3.4" stroke="#000" stroke-width="0.8" fill="none"/>
<path d="M324.7 333.8v1.5M333.2 333.8v1.5M340.4 333.8v1.5M346.7 333.8v1.5M352.2 333.8v1.5M389.5 333.8v1.5M408.5 333.8v1.5M421.9 333.8v1.5M432.4 333.8v1.5M440.9 333.8v1.5M448.1 333.8v1.5M454.4 333.8v1.5M459.9 333.8v1.5M497.2 333.8v1.5M315.4 332.6h-1.5M315.4 330.9h-1.5M315.4 329.3h-1.5M315.4 328h-1.5M315.4 318.9h-1.5M315.4 314.3h-1.5M315.4 311h-1.5M315.4 308.4h-1.5M315.4 306.3h-1.5M315.4 304.6h-1.5M315.4 303h-1.5M315.4 301.7h-1.5M315.4 292.6h-1.5M315.4 288h-1.5M315.4 284.7h-1.5M315.4 282.1h-1.5M315.4 280h-1.5M315.4 278.3h-1.5M315.4 276.7h-1.5M315.4 275.4h-1.5M315.4 266.3h-1.5M315.4 261.7h-1.5M315.4 258.4h-1.5M315.4 255.8h-1.5M315.4 253.7h-1.5M315.4 252h-1.5M315.4 250.4h-1.5M315.4 249.1h-1.5M315.4 240h-1.5M315.4 235.4h-1.5M315.4 232.1h-1.5M315.4 229.5h-1.5M315.4 227.4h-1.5M315.4 225.7h-1.5M315.4 224.1h-1.5M315.4 222.8h-1.5M315.4 213.7h-1.5M315.4 209.1h-1.5M315.4 205.8h-1.5M315.4 203.2h-1.5M315.4 201.1h-1.5M315.4 199.4h-1.5M315.4 197.8h-1.5M315.4 196.5h-1.5M315.4 187.4h-1.5" stroke="#000" stroke-width="0.55" fill="none"/>
<text x="415.1" y="356.2" text-anchor="middle" class="lb">radius [au]</text>
<text transform="translate(287.2 259.4) rotate(-90)" text-anchor="middle" class="lb">grain size [cm]</text>
<g>
<path d="M517.2 192.1L519.2 185L521.2 192.1Z" fill="#fde725"/>
<path d="M517.2 326.7L519.2 333.8L521.2 326.7Z" fill="#440154"/>
<rect x="517.2" y="317.9" width="4" height="9.2" fill="#470d60"/>
<rect x="517.2" y="308.9" width="4" height="9.2" fill="#482475"/>
<rect x="517.2" y="299.9" width="4" height="9.2" fill="#443983"/>
<rect x="517.2" y="290.9" width="4" height="9.2" fill="#3d4d8a"/>
<rect x="517.2" y="281.8" width="4" height="9.2" fill="#355f8d"/>
<rect x="517.2" y="272.8" width="4" height="9.2" fill="#2d708e"/>
<rect x="517.2" y="263.8" width="4" height="9.2" fill="#27808e"/>
<rect x="517.2" y="254.8" width="4" height="9.2" fill="#21918c"/>
<rect x="517.2" y="245.8" width="4" height="9.2" fill="#1fa188"/>
<rect x="517.2" y="236.8" width="4" height="9.2" fill="#2ab07f"/>
<rect x="517.2" y="227.7" width="4" height="9.2" fill="#44bf70"/>
<rect x="517.2" y="218.7" width="4" height="9.2" fill="#67cc5c"/>
<rect x="517.2" y="209.7" width="4" height="9.2" fill="#90d743"/>
<rect x="517.2" y="200.7" width="4" height="9.2" fill="#bddf26"/>
<rect x="517.2" y="191.7" width="4" height="9.2" fill="#eae51a"/>
<path d="M517.2 191.8L519.2 185L521.2 191.8L521.2 327L519.2 333.8L517.2 327Z" fill="none" stroke="#000" stroke-width="0.5"/>
<text x="524.8" y="329.9" class="ck">−7</text>
<text x="524.8" y="311.9" class="ck">−6</text>
<text x="524.8" y="293.9" class="ck">−5</text>
<text x="524.8" y="275.8" class="ck">−4</text>
<text x="524.8" y="257.8" class="ck">−3</text>
<text x="524.8" y="239.8" class="ck">−2</text>
<text x="524.8" y="221.7" class="ck">−1</text>
<text x="524.8" y="203.7" class="ck">0</text>
<path d="M521.2 327h2.0M521.2 309h2.0M521.2 291h2.0M521.2 272.9h2.0M521.2 254.9h2.0M521.2 236.9h2.0M521.2 218.8h2.0M521.2 200.8h2.0" stroke="#000" stroke-width="0.8" fill="none"/>
<text transform="translate(546 259.4) rotate(-90)" text-anchor="middle" class="lb">log<tspan dy="1.8" class="sp">10</tspan><tspan dy="-1.8">(<tspan font-style="italic">σ</tspan></tspan><tspan dy="1.8" class="sp">dust</tspan><tspan dy="-1.8">)[g/cm</tspan><tspan dy="-3.4" class="sp">2</tspan><tspan dy="3.4">]</tspan></text>
</g>
<g clip-path="url(#cp5)">
<rect x="591.1" y="183.3" width="201.7" height="150.2" fill="#440154"/>
<path d="M592.9 228.5L601.9 231.8L612.4 237.1L620.4 241.8L634.4 251.8L644.9 261.7L649.1 267.6L651.4 271.6L653.6 276.1L656.3 283.6L657.3 292.1L657.3 303.1L656.9 304.7L651.4 305.8L643.9 304.5L639 301.1L635.8 298.1L633.9 294.6L626.8 286.1L619.4 281.4L609.9 278.3L592.4 276.5L592.4 228.4ZM720.9 242L722.4 241.6L724.4 242.1L726.4 243.7L728.7 250.1L730.9 254.6L733.3 258.1L737.9 262.7L742.4 266L761.9 275.5L765.4 277.8L768.6 280.6L778.6 291.6L784.4 300.6L788.1 308.1L789.8 313.1L791.4 319.5L791.4 332.1L751.2 332.1L748.9 325.6L747.4 323.5L746.6 332.1L706.9 332.1L706.9 307.1L707.8 299.6L708.9 280.1L712.8 264.1L713.4 257.1L714.6 251.1L716.6 245.6L718.6 243.1Z" fill="#470d60" fill-rule="evenodd"/>
<path d="M592.9 229.5L601.4 232.6L611.9 237.8L619.9 242.5L634.4 252.9L644 262.1L648.4 268.1L650.6 272.1L652.9 276.6L655.4 283.6L656.5 292.5L656.5 301.5L655.9 303.1L650.9 303.9L645.4 303L642.9 301.5L637.9 296.8L636.2 293.6L629.4 285L625.7 282.1L621.4 279.5L617.9 277.9L610.9 275.8L601.4 274.4L592.4 273.6L592.4 229.4ZM720.9 243L721.8 242.6L723.9 242.9L725.5 244.1L726.4 245.5L727.9 250.4L730.2 255.1L732.5 258.6L737.4 263.4L741.9 266.7L761.4 276.2L764.9 278.5L775.4 288.9L777.9 292L783.4 300.6L787.4 308.6L791.1 322.1L791.4 332.1L756.7 332.1L756 328.6L753.9 323.1L750.2 316.6L748.1 313.6L744.4 310.3L743.7 310.6L743.5 312.1L742.8 332.1L707.7 332.1L707.7 307.6L708.7 299.6L709.7 280.5L713.6 264.1L715.3 251.6L717.3 246.1L719.4 243.6Z" fill="#482475" fill-rule="evenodd"/>
<path d="M592.9 230.5L600.9 233.3L606.9 236.2L619.4 243.2L633.8 253.6L643.3 262.6L647.7 268.6L649.8 272.4L651.9 276.6L654.6 284.1L655.7 292.6L655.4 301.1L650.9 302L646.4 301.3L643.9 299.8L640.2 296.1L638.4 292.6L635.2 288.1L630.9 283L627.1 280.1L619.4 275.7L612.4 273.5L607.4 272.5L592.4 270.6L592.4 230.3ZM722.4 243.5L723.9 243.8L725.2 245.1L727 250.6L729.5 255.6L731.8 259.1L736.8 264.1L741.4 267.4L760.8 277L764.4 279.2L774.3 289.1L776.9 292.1L782.7 301.1L786.6 309.1L789.1 317.1L790.1 322L790.7 326.6L790.7 332.1L762.2 332.1L761.6 327.6L760.5 324.6L758.6 320.1L754.6 313.1L752.2 310L748.4 306.4L740.9 302.6L739.9 305.1L738.9 332.1L708.5 332.1L708.5 307.6L709.5 300.1L710.6 280.6L714.4 264.6L715.1 257.6L716.6 250.6L717.9 246.9L719.6 244.6Z" fill="#443983" fill-rule="evenodd"/>
<path d="M592.8 231.4L600.4 234L606.4 236.9L618.9 243.9L633.4 254.3L642.6 263.1L649 272.6L651.2 277.1L653.7 284.1L654.8 293.1L654.8 298.1L654.3 299.5L651.4 300.1L647.9 299.7L644.9 298L642 295.1L640.5 291.6L637.5 287.1L632.8 281.6L628.9 278.3L620.9 273.7L613.4 271.1L608.9 270L603.9 269L592.4 267.8L592.3 231.3ZM721.9 244.5L723.4 244.6L724.3 245.4L726.3 251.1L728.8 256.1L731.1 259.6L736.4 264.8L740.9 268.1L760.1 277.6L763.9 279.9L773.9 289.8L776.4 292.9L781.9 301.6L785.9 309.5L788.2 317.1L789.3 322.6L789.8 332.1L767.8 332.1L766.9 326.1L765.5 322.1L763.6 317.6L758.2 308.6L752.4 302.7L749.3 300.7L744.2 298.1L737.4 295.5L736.9 296.4L736 305L735 332.1L709.5 332.1L709.4 308.1L710.3 300.1L711.4 281.1L715.2 264.6L717.1 251.6L718.7 247.1L720.4 245.1Z" fill="#3d4d8a" fill-rule="evenodd"/>
<path d="M592.9 232.4L599.9 234.7L605.9 237.6L618.4 244.6L632.9 255L641.8 263.6L646.2 269.6L648.4 273.2L650.5 277.6L652.8 284.1L654 293.1L653.6 297.6L651.4 298.2L648.9 297.8L645.9 296.2L643.5 293.6L642.4 290.6L639.4 285.6L634.9 280.1L630.5 276.6L622.9 271.9L614.9 268.8L605.4 266.5L592.4 264.9L592.4 232.2ZM721.8 245.4L722.9 245.4L723.7 246.1L725.6 251.6L730.1 259.6L735.9 265.5L740.9 269.1L760.5 279.1L765.8 283.3L773.4 291.5L779.4 300.6L783.2 308.6L786.4 316.9L787.4 321.6L788.4 332.1L773.4 332.1L772.2 323.6L768.7 315.1L762.9 305.3L756 298.6L751.4 295.7L746.4 293.1L734.4 288.4L733.9 288.5L733.5 289.6L733 301.6L732.3 305.1L731.2 332.1L712.5 332.1L711.3 303.1L712.2 281.6L716.1 264.6L717.9 252.1L719.5 247.6Z" fill="#355f8d" fill-rule="evenodd"/>
<path d="M592.9 233.3L599.4 235.5L605.8 238.6L617.4 245.1L627.5 252.1L637.6 261.1L644.8 269.6L649.9 278.5L652.1 285.1L653.1 293.1L652.7 295.6L651.4 296L649.4 295.7L646.9 294.1L645.6 292.6L644.4 289.6L641.4 284.6L637.2 279.1L632.4 274.9L624.6 270.1L615.9 266.4L606.9 264L592.4 261.9L592.4 233.1ZM721.9 246.3L722.9 246.6L724.9 252.1L729.4 260.1L738.4 269.6L745.4 274.9L754.4 280.3L763.6 288.1L771.8 299.6L774.4 307.6L774.4 307.9L773.4 307.3L768.7 301.5L759.9 293.7L749.4 288.2L739.9 284.8L732.4 281.2L731.9 281.5L731.5 283.6L729 332L714.7 332.1L713.5 303.1L713.8 299.6L713.3 281L716.9 264.9L718.7 252.1L720.2 248.1Z" fill="#2d708e" fill-rule="evenodd"/>
<path d="M592.9 234.3L599.4 236.6L610.5 242.6L623.4 251.2L630.3 257.1L636.2 263.1L644.2 274.1L647.4 280.8L648.7 286.1L648.4 286.3L647.4 285.8L639.6 276.6L630.9 270.2L624.4 266.8L616.9 263.9L607.9 261.4L592.4 258.7L592.4 234.2ZM721.9 247.5L722.5 248.1L723.9 252.1L726.4 257.1L730.6 263.6L730.4 271.1L729.7 275.1L728.6 301.6L727.9 305.6L726.8 332.1L716.9 332.1L715.7 303.6L716 299.6L715.2 277.1L716.1 271.1L717.7 264.6L719.5 252.6L720.9 248.6Z" fill="#27808e" fill-rule="evenodd"/>
<path d="M592.9 236.8L598.9 239.2L605.9 243L614.2 248.6L618 252.1L620.8 255.5L621.8 257.6L621.6 258.6L618.1 259.6L615.8 259.6L597.4 256.6L592.4 255.3L592.3 236.7ZM721.9 249.5L728.5 262.5L724.3 332.1L719.4 332.1L718 303.1L718.3 299.6L717.2 272.1L720.2 253.1Z" fill="#21918c" fill-rule="evenodd"/>
<path d="M721.4 252.5L721.9 252.1L722.4 252.8L725.9 259.6L726.2 261.1L723.4 300.2L721.9 306.7L721.2 303.1L721.4 301.1L719.6 272.6L719.8 262.1Z" fill="#1fa188" fill-rule="evenodd"/>
<path d="M592 182.5C595 182.8 605 183.8 610 184.3C615 184.8 617 183.7 622 185.6C627 187.5 635.2 191.1 640 196C644.8 200.9 648.3 209.9 650.8 215C653.3 220.1 653.8 222 655 226.3C656.2 230.6 657.2 235.2 658 240.6C658.8 246 659.2 251.1 659.6 259C660 266.9 660 275.3 660.1 288C660.2 300.7 660.1 327.2 660.1 335" fill="none" stroke="#ffffff" stroke-width="1.7" stroke-linejoin="round" stroke-linecap="butt"/>
<path d="M705.9 335C705.9 327.2 705.7 299 705.9 288C706.1 277 706.5 275.1 707.3 269.2C708 263.3 708.9 257.3 710.4 252.9C711.9 248.5 714.1 245.2 716.5 242.6C718.9 240 722 238.5 724.7 237.5C727.4 236.5 729.5 236.3 732.9 236.5C736.3 236.7 740.8 237.5 745.2 238.5C749.6 239.5 754.7 240.9 759.5 242.6C764.3 244.3 770 246.6 773.8 248.8C777.5 251 779.6 253.2 782 255.9C784.4 258.6 786.6 261.9 788.1 265.1C789.6 268.3 790.6 271.2 791.2 275.3C791.8 279.4 791.7 280.1 791.8 290C791.9 299.9 791.8 327.5 791.8 335" fill="none" stroke="#ffffff" stroke-width="1.7" stroke-linejoin="round" stroke-linecap="butt"/>
<path d="M590 184.3C591 184.4 590.2 184.3 596 184.7C601.8 185.1 617.3 184.3 624.6 186.5C631.9 188.7 635.7 193.2 640 198C644.3 202.8 647.9 210.3 650.3 215C652.7 219.7 653.2 222 654.4 226.3C655.6 230.6 656.6 235.2 657.4 240.6C658.1 246 658.5 251.1 658.9 259C659.2 266.9 659.4 275.3 659.5 288C659.6 300.7 659.5 327.2 659.5 335" fill="none" stroke="#00ffff" stroke-width="1.7" stroke-linejoin="round" stroke-linecap="butt"/>
<path d="M706 335C706.2 330.3 706.7 314.8 707 307C707.3 299.2 707.6 293.6 708 288C708.4 282.4 708.7 278 709.4 273.3C710.1 268.6 710.9 263.8 712.4 260C713.9 256.2 716.2 253 718.6 250.8C721 248.6 723.7 247.5 726.8 246.7C729.9 245.8 732.6 245.5 737 245.7C741.4 245.9 747.8 246.5 753.3 247.7C758.8 248.9 765.3 250.8 769.7 252.9C774.1 255 777.2 257.3 779.9 260C782.6 262.7 784.6 266 786.1 269.2C787.6 272.4 788.4 275.8 789.1 279.4C789.9 283 790.2 281.4 790.6 290.7C791 300 791.1 327.6 791.2 335" fill="none" stroke="#00ffff" stroke-width="1.7" stroke-linejoin="round" stroke-linecap="butt"/>
<path d="M590 232.7C592 233.5 598.5 235.8 602.2 237.5C605.9 239.2 609 240.7 612.4 242.6C615.8 244.5 619.3 246.4 622.7 248.8C626.1 251.2 630 254.4 632.9 256.9C635.8 259.3 638 261.3 640 263.5C642 265.7 643.3 267.4 645.2 270.2C647.1 272.9 649.7 276.6 651.3 280C652.9 283.4 654.1 286.5 655 290.7C655.9 294.9 655.9 299.9 656.4 305C656.9 310.1 657.4 316.3 657.8 321.3C658.1 326.3 658.4 332.7 658.5 335" fill="none" stroke="#ff6347" stroke-width="1.7" stroke-linejoin="round" stroke-linecap="butt"/>
<path d="M706.7 335C706.9 330.3 707.5 316.1 708 307C708.5 297.9 709.1 287.4 710 280.4C710.9 273.4 712.4 271.1 713.5 265.1C714.6 259.2 715.6 251.2 716.5 244.7C717.4 238.2 718 231.4 718.6 226.3C719.2 221.2 719.7 220.1 720.2 214C720.7 207.9 721.5 196 721.8 190C722.1 184 722 180 722 178" fill="none" stroke="#ff6347" stroke-width="1.7" stroke-linejoin="round" stroke-linecap="butt"/>
<path d="M722.7 178C722.8 180.8 722.7 189 723 195C723.3 201 723.8 208.1 724.3 214C724.8 219.9 725.1 224.6 725.7 230.4C726.3 236.2 726.8 243.7 727.8 248.8C728.8 253.9 730 257.6 731.9 261C733.8 264.4 735.8 266.8 739 269.2C742.2 271.6 747.2 273.2 751.3 275.3C755.4 277.4 759.9 279.1 763.6 282C767.4 284.9 770.7 288.9 773.8 292.7C776.9 296.5 779.8 301.2 782 305C784.2 308.8 786 312.7 787.1 315.2C788.2 317.7 788.2 318.2 788.6 320C789 321.8 789 323.5 789.2 326C789.4 328.5 789.7 333.5 789.8 335" fill="none" stroke="#ff6347" stroke-width="1.7" stroke-linejoin="round" stroke-linecap="butt"/>
</g>
<rect x="593.1" y="185.8" width="142.3" height="28.5" fill="#fff"/>
<text x="664.2" y="198" text-anchor="middle" class="tt">Internal photoevaporation</text>
<text x="664.2" y="209" text-anchor="middle" class="tt">and a dead zone</text>
<rect x="592.1" y="184.3" width="199.7" height="148.2" fill="none" stroke="#000" stroke-width="0.6"/>
<text x="678.2" y="343.9" text-anchor="end" class="tk">10<tspan dy="-2.9" class="st">1</tspan></text>
<text x="758.8" y="343.9" text-anchor="end" class="tk">10<tspan dy="-2.9" class="st">2</tspan></text>
<text x="586.9" y="328.8" text-anchor="end" class="tk">10<tspan dy="-2.9" class="st">−4</tspan></text>
<text x="586.9" y="306.5" text-anchor="end" class="tk">10<tspan dy="-2.9" class="st">−3</tspan></text>
<text x="586.9" y="284.2" text-anchor="end" class="tk">10<tspan dy="-2.9" class="st">−2</tspan></text>
<text x="586.9" y="262" text-anchor="end" class="tk">10<tspan dy="-2.9" class="st">−1</tspan></text>
<text x="586.9" y="239.7" text-anchor="end" class="tk">10<tspan dy="-2.9" class="st">0</tspan></text>
<text x="586.9" y="217.4" text-anchor="end" class="tk">10<tspan dy="-2.9" class="st">1</tspan></text>
<text x="586.9" y="195.2" text-anchor="end" class="tk">10<tspan dy="-2.9" class="st">2</tspan></text>
<path d="M672.1 332.5v3.2M752.7 332.5v3.2M592.1 326.2h-3.4M592.1 303.9h-3.4M592.1 281.6h-3.4M592.1 259.4h-3.4M592.1 237.1h-3.4M592.1 214.8h-3.4M592.1 192.6h-3.4" stroke="#000" stroke-width="0.8" fill="none"/>
<path d="M615.8 332.5v1.5M630 332.5v1.5M640 332.5v1.5M647.8 332.5v1.5M654.2 332.5v1.5M659.6 332.5v1.5M664.3 332.5v1.5M668.4 332.5v1.5M696.4 332.5v1.5M710.6 332.5v1.5M720.6 332.5v1.5M728.4 332.5v1.5M734.8 332.5v1.5M740.2 332.5v1.5M744.9 332.5v1.5M749 332.5v1.5M777 332.5v1.5M791.2 332.5v1.5M592.1 331.1h-1.5M592.1 329.6h-1.5M592.1 328.3h-1.5M592.1 327.2h-1.5M592.1 319.5h-1.5M592.1 315.6h-1.5M592.1 312.8h-1.5M592.1 310.6h-1.5M592.1 308.9h-1.5M592.1 307.4h-1.5M592.1 306.1h-1.5M592.1 304.9h-1.5M592.1 297.2h-1.5M592.1 293.3h-1.5M592.1 290.5h-1.5M592.1 288.3h-1.5M592.1 286.6h-1.5M592.1 285.1h-1.5M592.1 283.8h-1.5M592.1 282.7h-1.5M592.1 274.9h-1.5M592.1 271h-1.5M592.1 268.2h-1.5M592.1 266.1h-1.5M592.1 264.3h-1.5M592.1 262.8h-1.5M592.1 261.5h-1.5M592.1 260.4h-1.5M592.1 252.7h-1.5M592.1 248.7h-1.5M592.1 246h-1.5M592.1 243.8h-1.5M592.1 242h-1.5M592.1 240.5h-1.5M592.1 239.3h-1.5M592.1 238.1h-1.5M592.1 230.4h-1.5M592.1 226.5h-1.5M592.1 223.7h-1.5M592.1 221.5h-1.5M592.1 219.8h-1.5M592.1 218.3h-1.5M592.1 217h-1.5M592.1 215.8h-1.5M592.1 208.1h-1.5M592.1 204.2h-1.5M592.1 201.4h-1.5M592.1 199.3h-1.5M592.1 197.5h-1.5M592.1 196h-1.5M592.1 194.7h-1.5M592.1 193.6h-1.5M592.1 185.9h-1.5" stroke="#000" stroke-width="0.55" fill="none"/>
<text x="692" y="354.9" text-anchor="middle" class="lb">radius [au]</text>
<text transform="translate(564.2 258.4) rotate(-90)" text-anchor="middle" class="lb">grain size [cm]</text>
<g>
<path d="M793.9 191.3L796 184.3L798.1 191.3Z" fill="#fde725"/>
<path d="M793.9 325.5L796 332.5L798.1 325.5Z" fill="#440154"/>
<rect x="793.9" y="316.7" width="4.2" height="9.2" fill="#470d60"/>
<rect x="793.9" y="307.7" width="4.2" height="9.2" fill="#482475"/>
<rect x="793.9" y="298.7" width="4.2" height="9.2" fill="#443983"/>
<rect x="793.9" y="289.7" width="4.2" height="9.2" fill="#3d4d8a"/>
<rect x="793.9" y="280.8" width="4.2" height="9.2" fill="#355f8d"/>
<rect x="793.9" y="271.8" width="4.2" height="9.2" fill="#2d708e"/>
<rect x="793.9" y="262.8" width="4.2" height="9.2" fill="#27808e"/>
<rect x="793.9" y="253.8" width="4.2" height="9.2" fill="#21918c"/>
<rect x="793.9" y="244.8" width="4.2" height="9.2" fill="#1fa188"/>
<rect x="793.9" y="235.8" width="4.2" height="9.2" fill="#2ab07f"/>
<rect x="793.9" y="226.9" width="4.2" height="9.2" fill="#44bf70"/>
<rect x="793.9" y="217.9" width="4.2" height="9.2" fill="#67cc5c"/>
<rect x="793.9" y="208.9" width="4.2" height="9.2" fill="#90d743"/>
<rect x="793.9" y="199.9" width="4.2" height="9.2" fill="#bddf26"/>
<rect x="793.9" y="190.9" width="4.2" height="9.2" fill="#eae51a"/>
<path d="M793.9 191L796 184.3L798.1 191L798.1 325.8L796 332.5L793.9 325.8Z" fill="none" stroke="#000" stroke-width="0.5"/>
<text x="801.7" y="328.7" class="ck">−7</text>
<text x="801.7" y="310.7" class="ck">−6</text>
<text x="801.7" y="292.7" class="ck">−5</text>
<text x="801.7" y="274.8" class="ck">−4</text>
<text x="801.7" y="256.8" class="ck">−3</text>
<text x="801.7" y="238.8" class="ck">−2</text>
<text x="801.7" y="220.9" class="ck">−1</text>
<text x="801.7" y="202.9" class="ck">0</text>
<path d="M798.1 325.8h2.0M798.1 307.8h2.0M798.1 289.8h2.0M798.1 271.9h2.0M798.1 253.9h2.0M798.1 235.9h2.0M798.1 218h2.0M798.1 200h2.0" stroke="#000" stroke-width="0.8" fill="none"/>
<text transform="translate(823 258.4) rotate(-90)" text-anchor="middle" class="lb">log<tspan dy="1.8" class="sp">10</tspan><tspan dy="-1.8">(<tspan font-style="italic">σ</tspan></tspan><tspan dy="1.8" class="sp">dust</tspan><tspan dy="-1.8">)[g/cm</tspan><tspan dy="-3.4" class="sp">2</tspan><tspan dy="3.4">]</tspan></text>
</g>
</svg>
</body></html>
